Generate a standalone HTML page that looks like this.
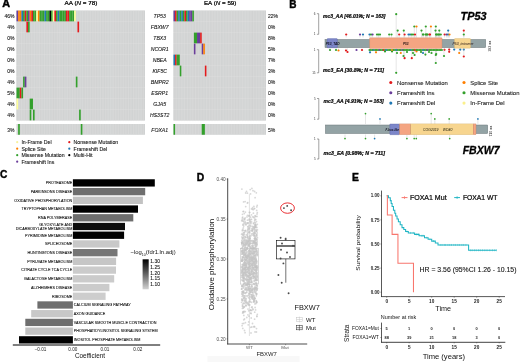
<!DOCTYPE html>
<html><head><meta charset="utf-8"><title>Figure</title>
<style>html,body{margin:0;padding:0;background:#fff;}svg{display:block}text{font-family:'Liberation Sans', sans-serif;}</style>
</head><body>
<svg width="520" height="362" viewBox="0 0 520 362" font-family='"Liberation Sans", sans-serif'>
<rect width="520" height="362" fill="#fff"/>
<g id="panelA">
<text x="2.30" y="7.40" font-size="10" font-weight="bold" textLength="7.80" lengthAdjust="spacingAndGlyphs" stroke="#000" stroke-width="0.4">A</text>
<text x="81.00" y="4.90" font-size="6.1" text-anchor="middle" textLength="33.00" lengthAdjust="spacingAndGlyphs" stroke="#000" stroke-width="0.22">AA (<tspan font-style="italic">N</tspan> = 78)</text>
<text x="220.20" y="4.90" font-size="6.1" text-anchor="middle" textLength="32.50" lengthAdjust="spacingAndGlyphs" stroke="#000" stroke-width="0.22">EA (<tspan font-style="italic">N</tspan> = 59)</text>
<rect x="16.50" y="10.60" width="128.50" height="110.00" fill="#e0e0e0" />
<rect x="173.50" y="10.60" width="92.50" height="110.00" fill="#e0e0e0" />
<rect x="16.50" y="10.60" width="128.50" height="10.75" fill="#d0d2d2" />
<rect x="173.50" y="10.60" width="92.50" height="10.75" fill="#d0d2d2" />
<text x="14.60" y="18.20" font-size="5.05" text-anchor="end" fill="#111" stroke="#111" stroke-width="0.09">46%</text>
<text x="268.00" y="18.20" font-size="5.05" fill="#111" stroke="#111" stroke-width="0.09">22%</text>
<text x="159.70" y="18.30" font-size="5.15" text-anchor="middle" font-style="italic" fill="#111" stroke="#111" stroke-width="0.09">TP53</text>
<rect x="16.50" y="21.60" width="128.50" height="10.75" fill="#d0d2d2" />
<rect x="173.50" y="21.60" width="92.50" height="10.75" fill="#d0d2d2" />
<text x="14.60" y="29.20" font-size="5.05" text-anchor="end" fill="#111" stroke="#111" stroke-width="0.09">4%</text>
<text x="268.00" y="29.20" font-size="5.05" fill="#111" stroke="#111" stroke-width="0.09">0%</text>
<text x="159.70" y="29.30" font-size="5.15" text-anchor="middle" font-style="italic" fill="#111" stroke="#111" stroke-width="0.09">FBXW7</text>
<rect x="16.50" y="32.60" width="128.50" height="10.75" fill="#d0d2d2" />
<rect x="173.50" y="32.60" width="92.50" height="10.75" fill="#d0d2d2" />
<text x="14.60" y="40.20" font-size="5.05" text-anchor="end" fill="#111" stroke="#111" stroke-width="0.09">0%</text>
<text x="268.00" y="40.20" font-size="5.05" fill="#111" stroke="#111" stroke-width="0.09">8%</text>
<text x="159.70" y="40.30" font-size="5.15" text-anchor="middle" font-style="italic" fill="#111" stroke="#111" stroke-width="0.09">TBX3</text>
<rect x="16.50" y="43.60" width="128.50" height="10.75" fill="#d0d2d2" />
<rect x="173.50" y="43.60" width="92.50" height="10.75" fill="#d0d2d2" />
<text x="14.60" y="51.20" font-size="5.05" text-anchor="end" fill="#111" stroke="#111" stroke-width="0.09">0%</text>
<text x="268.00" y="51.20" font-size="5.05" fill="#111" stroke="#111" stroke-width="0.09">5%</text>
<text x="159.70" y="51.30" font-size="5.15" text-anchor="middle" font-style="italic" fill="#111" stroke="#111" stroke-width="0.09">NCOR1</text>
<rect x="16.50" y="54.60" width="128.50" height="10.75" fill="#d0d2d2" />
<rect x="173.50" y="54.60" width="92.50" height="10.75" fill="#d0d2d2" />
<text x="14.60" y="62.20" font-size="5.05" text-anchor="end" fill="#111" stroke="#111" stroke-width="0.09">0%</text>
<text x="268.00" y="62.20" font-size="5.05" fill="#111" stroke="#111" stroke-width="0.09">7%</text>
<text x="159.70" y="62.30" font-size="5.15" text-anchor="middle" font-style="italic" fill="#111" stroke="#111" stroke-width="0.09">NBEA</text>
<rect x="16.50" y="65.60" width="128.50" height="10.75" fill="#d0d2d2" />
<rect x="173.50" y="65.60" width="92.50" height="10.75" fill="#d0d2d2" />
<text x="14.60" y="73.20" font-size="5.05" text-anchor="end" fill="#111" stroke="#111" stroke-width="0.09">0%</text>
<text x="268.00" y="73.20" font-size="5.05" fill="#111" stroke="#111" stroke-width="0.09">3%</text>
<text x="159.70" y="73.30" font-size="5.15" text-anchor="middle" font-style="italic" fill="#111" stroke="#111" stroke-width="0.09">KIF5C</text>
<rect x="16.50" y="76.60" width="128.50" height="10.75" fill="#d0d2d2" />
<rect x="173.50" y="76.60" width="92.50" height="10.75" fill="#d0d2d2" />
<text x="14.60" y="84.20" font-size="5.05" text-anchor="end" fill="#111" stroke="#111" stroke-width="0.09">4%</text>
<text x="268.00" y="84.20" font-size="5.05" fill="#111" stroke="#111" stroke-width="0.09">0%</text>
<text x="159.70" y="84.30" font-size="5.15" text-anchor="middle" font-style="italic" fill="#111" stroke="#111" stroke-width="0.09">BMPR2</text>
<rect x="16.50" y="87.60" width="128.50" height="10.75" fill="#d0d2d2" />
<rect x="173.50" y="87.60" width="92.50" height="10.75" fill="#d0d2d2" />
<text x="14.60" y="95.20" font-size="5.05" text-anchor="end" fill="#111" stroke="#111" stroke-width="0.09">5%</text>
<text x="268.00" y="95.20" font-size="5.05" fill="#111" stroke="#111" stroke-width="0.09">0%</text>
<text x="159.70" y="95.30" font-size="5.15" text-anchor="middle" font-style="italic" fill="#111" stroke="#111" stroke-width="0.09">ESRP1</text>
<rect x="16.50" y="98.60" width="128.50" height="10.75" fill="#d0d2d2" />
<rect x="173.50" y="98.60" width="92.50" height="10.75" fill="#d0d2d2" />
<text x="14.60" y="106.20" font-size="5.05" text-anchor="end" fill="#111" stroke="#111" stroke-width="0.09">4%</text>
<text x="268.00" y="106.20" font-size="5.05" fill="#111" stroke="#111" stroke-width="0.09">0%</text>
<text x="159.70" y="106.30" font-size="5.15" text-anchor="middle" font-style="italic" fill="#111" stroke="#111" stroke-width="0.09">GJA5</text>
<rect x="16.50" y="109.60" width="128.50" height="10.75" fill="#d0d2d2" />
<rect x="173.50" y="109.60" width="92.50" height="10.75" fill="#d0d2d2" />
<text x="14.60" y="117.20" font-size="5.05" text-anchor="end" fill="#111" stroke="#111" stroke-width="0.09">4%</text>
<text x="268.00" y="117.20" font-size="5.05" fill="#111" stroke="#111" stroke-width="0.09">0%</text>
<text x="159.70" y="117.30" font-size="5.15" text-anchor="middle" font-style="italic" fill="#111" stroke="#111" stroke-width="0.09">HS3ST2</text>
<rect x="16.50" y="124.00" width="128.50" height="10.75" fill="#d0d2d2" />
<rect x="173.50" y="124.00" width="92.50" height="10.75" fill="#d0d2d2" />
<text x="14.60" y="131.60" font-size="5.05" text-anchor="end" fill="#111" stroke="#111" stroke-width="0.09">3%</text>
<text x="268.00" y="131.60" font-size="5.05" fill="#111" stroke="#111" stroke-width="0.09">5%</text>
<text x="159.70" y="131.70" font-size="5.15" text-anchor="middle" font-style="italic" fill="#111" stroke="#111" stroke-width="0.09">FOXA1</text>
<line x1="18.15" y1="10.6" x2="18.15" y2="134.5" stroke="#dfdfdf" stroke-width="0.45"/>
<line x1="19.79" y1="10.6" x2="19.79" y2="134.5" stroke="#dfdfdf" stroke-width="0.45"/>
<line x1="21.44" y1="10.6" x2="21.44" y2="134.5" stroke="#dfdfdf" stroke-width="0.45"/>
<line x1="23.09" y1="10.6" x2="23.09" y2="134.5" stroke="#dfdfdf" stroke-width="0.45"/>
<line x1="24.74" y1="10.6" x2="24.74" y2="134.5" stroke="#dfdfdf" stroke-width="0.45"/>
<line x1="26.38" y1="10.6" x2="26.38" y2="134.5" stroke="#dfdfdf" stroke-width="0.45"/>
<line x1="28.03" y1="10.6" x2="28.03" y2="134.5" stroke="#dfdfdf" stroke-width="0.45"/>
<line x1="29.68" y1="10.6" x2="29.68" y2="134.5" stroke="#dfdfdf" stroke-width="0.45"/>
<line x1="31.33" y1="10.6" x2="31.33" y2="134.5" stroke="#dfdfdf" stroke-width="0.45"/>
<line x1="32.97" y1="10.6" x2="32.97" y2="134.5" stroke="#dfdfdf" stroke-width="0.45"/>
<line x1="34.62" y1="10.6" x2="34.62" y2="134.5" stroke="#dfdfdf" stroke-width="0.45"/>
<line x1="36.27" y1="10.6" x2="36.27" y2="134.5" stroke="#dfdfdf" stroke-width="0.45"/>
<line x1="37.92" y1="10.6" x2="37.92" y2="134.5" stroke="#dfdfdf" stroke-width="0.45"/>
<line x1="39.56" y1="10.6" x2="39.56" y2="134.5" stroke="#dfdfdf" stroke-width="0.45"/>
<line x1="41.21" y1="10.6" x2="41.21" y2="134.5" stroke="#dfdfdf" stroke-width="0.45"/>
<line x1="42.86" y1="10.6" x2="42.86" y2="134.5" stroke="#dfdfdf" stroke-width="0.45"/>
<line x1="44.51" y1="10.6" x2="44.51" y2="134.5" stroke="#dfdfdf" stroke-width="0.45"/>
<line x1="46.15" y1="10.6" x2="46.15" y2="134.5" stroke="#dfdfdf" stroke-width="0.45"/>
<line x1="47.80" y1="10.6" x2="47.80" y2="134.5" stroke="#dfdfdf" stroke-width="0.45"/>
<line x1="49.45" y1="10.6" x2="49.45" y2="134.5" stroke="#dfdfdf" stroke-width="0.45"/>
<line x1="51.10" y1="10.6" x2="51.10" y2="134.5" stroke="#dfdfdf" stroke-width="0.45"/>
<line x1="52.74" y1="10.6" x2="52.74" y2="134.5" stroke="#dfdfdf" stroke-width="0.45"/>
<line x1="54.39" y1="10.6" x2="54.39" y2="134.5" stroke="#dfdfdf" stroke-width="0.45"/>
<line x1="56.04" y1="10.6" x2="56.04" y2="134.5" stroke="#dfdfdf" stroke-width="0.45"/>
<line x1="57.69" y1="10.6" x2="57.69" y2="134.5" stroke="#dfdfdf" stroke-width="0.45"/>
<line x1="59.33" y1="10.6" x2="59.33" y2="134.5" stroke="#dfdfdf" stroke-width="0.45"/>
<line x1="60.98" y1="10.6" x2="60.98" y2="134.5" stroke="#dfdfdf" stroke-width="0.45"/>
<line x1="62.63" y1="10.6" x2="62.63" y2="134.5" stroke="#dfdfdf" stroke-width="0.45"/>
<line x1="64.28" y1="10.6" x2="64.28" y2="134.5" stroke="#dfdfdf" stroke-width="0.45"/>
<line x1="65.92" y1="10.6" x2="65.92" y2="134.5" stroke="#dfdfdf" stroke-width="0.45"/>
<line x1="67.57" y1="10.6" x2="67.57" y2="134.5" stroke="#dfdfdf" stroke-width="0.45"/>
<line x1="69.22" y1="10.6" x2="69.22" y2="134.5" stroke="#dfdfdf" stroke-width="0.45"/>
<line x1="70.87" y1="10.6" x2="70.87" y2="134.5" stroke="#dfdfdf" stroke-width="0.45"/>
<line x1="72.51" y1="10.6" x2="72.51" y2="134.5" stroke="#dfdfdf" stroke-width="0.45"/>
<line x1="74.16" y1="10.6" x2="74.16" y2="134.5" stroke="#dfdfdf" stroke-width="0.45"/>
<line x1="75.81" y1="10.6" x2="75.81" y2="134.5" stroke="#dfdfdf" stroke-width="0.45"/>
<line x1="77.46" y1="10.6" x2="77.46" y2="134.5" stroke="#dfdfdf" stroke-width="0.45"/>
<line x1="79.10" y1="10.6" x2="79.10" y2="134.5" stroke="#dfdfdf" stroke-width="0.45"/>
<line x1="80.75" y1="10.6" x2="80.75" y2="134.5" stroke="#dfdfdf" stroke-width="0.45"/>
<line x1="82.40" y1="10.6" x2="82.40" y2="134.5" stroke="#dfdfdf" stroke-width="0.45"/>
<line x1="84.04" y1="10.6" x2="84.04" y2="134.5" stroke="#dfdfdf" stroke-width="0.45"/>
<line x1="85.69" y1="10.6" x2="85.69" y2="134.5" stroke="#dfdfdf" stroke-width="0.45"/>
<line x1="87.34" y1="10.6" x2="87.34" y2="134.5" stroke="#dfdfdf" stroke-width="0.45"/>
<line x1="88.99" y1="10.6" x2="88.99" y2="134.5" stroke="#dfdfdf" stroke-width="0.45"/>
<line x1="90.63" y1="10.6" x2="90.63" y2="134.5" stroke="#dfdfdf" stroke-width="0.45"/>
<line x1="92.28" y1="10.6" x2="92.28" y2="134.5" stroke="#dfdfdf" stroke-width="0.45"/>
<line x1="93.93" y1="10.6" x2="93.93" y2="134.5" stroke="#dfdfdf" stroke-width="0.45"/>
<line x1="95.58" y1="10.6" x2="95.58" y2="134.5" stroke="#dfdfdf" stroke-width="0.45"/>
<line x1="97.22" y1="10.6" x2="97.22" y2="134.5" stroke="#dfdfdf" stroke-width="0.45"/>
<line x1="98.87" y1="10.6" x2="98.87" y2="134.5" stroke="#dfdfdf" stroke-width="0.45"/>
<line x1="100.52" y1="10.6" x2="100.52" y2="134.5" stroke="#dfdfdf" stroke-width="0.45"/>
<line x1="102.17" y1="10.6" x2="102.17" y2="134.5" stroke="#dfdfdf" stroke-width="0.45"/>
<line x1="103.81" y1="10.6" x2="103.81" y2="134.5" stroke="#dfdfdf" stroke-width="0.45"/>
<line x1="105.46" y1="10.6" x2="105.46" y2="134.5" stroke="#dfdfdf" stroke-width="0.45"/>
<line x1="107.11" y1="10.6" x2="107.11" y2="134.5" stroke="#dfdfdf" stroke-width="0.45"/>
<line x1="108.76" y1="10.6" x2="108.76" y2="134.5" stroke="#dfdfdf" stroke-width="0.45"/>
<line x1="110.40" y1="10.6" x2="110.40" y2="134.5" stroke="#dfdfdf" stroke-width="0.45"/>
<line x1="112.05" y1="10.6" x2="112.05" y2="134.5" stroke="#dfdfdf" stroke-width="0.45"/>
<line x1="113.70" y1="10.6" x2="113.70" y2="134.5" stroke="#dfdfdf" stroke-width="0.45"/>
<line x1="115.35" y1="10.6" x2="115.35" y2="134.5" stroke="#dfdfdf" stroke-width="0.45"/>
<line x1="116.99" y1="10.6" x2="116.99" y2="134.5" stroke="#dfdfdf" stroke-width="0.45"/>
<line x1="118.64" y1="10.6" x2="118.64" y2="134.5" stroke="#dfdfdf" stroke-width="0.45"/>
<line x1="120.29" y1="10.6" x2="120.29" y2="134.5" stroke="#dfdfdf" stroke-width="0.45"/>
<line x1="121.94" y1="10.6" x2="121.94" y2="134.5" stroke="#dfdfdf" stroke-width="0.45"/>
<line x1="123.58" y1="10.6" x2="123.58" y2="134.5" stroke="#dfdfdf" stroke-width="0.45"/>
<line x1="125.23" y1="10.6" x2="125.23" y2="134.5" stroke="#dfdfdf" stroke-width="0.45"/>
<line x1="126.88" y1="10.6" x2="126.88" y2="134.5" stroke="#dfdfdf" stroke-width="0.45"/>
<line x1="128.53" y1="10.6" x2="128.53" y2="134.5" stroke="#dfdfdf" stroke-width="0.45"/>
<line x1="130.17" y1="10.6" x2="130.17" y2="134.5" stroke="#dfdfdf" stroke-width="0.45"/>
<line x1="131.82" y1="10.6" x2="131.82" y2="134.5" stroke="#dfdfdf" stroke-width="0.45"/>
<line x1="133.47" y1="10.6" x2="133.47" y2="134.5" stroke="#dfdfdf" stroke-width="0.45"/>
<line x1="135.12" y1="10.6" x2="135.12" y2="134.5" stroke="#dfdfdf" stroke-width="0.45"/>
<line x1="136.76" y1="10.6" x2="136.76" y2="134.5" stroke="#dfdfdf" stroke-width="0.45"/>
<line x1="138.41" y1="10.6" x2="138.41" y2="134.5" stroke="#dfdfdf" stroke-width="0.45"/>
<line x1="140.06" y1="10.6" x2="140.06" y2="134.5" stroke="#dfdfdf" stroke-width="0.45"/>
<line x1="141.71" y1="10.6" x2="141.71" y2="134.5" stroke="#dfdfdf" stroke-width="0.45"/>
<line x1="143.35" y1="10.6" x2="143.35" y2="134.5" stroke="#dfdfdf" stroke-width="0.45"/>
<line x1="175.07" y1="10.6" x2="175.07" y2="134.5" stroke="#dfdfdf" stroke-width="0.45"/>
<line x1="176.64" y1="10.6" x2="176.64" y2="134.5" stroke="#dfdfdf" stroke-width="0.45"/>
<line x1="178.20" y1="10.6" x2="178.20" y2="134.5" stroke="#dfdfdf" stroke-width="0.45"/>
<line x1="179.77" y1="10.6" x2="179.77" y2="134.5" stroke="#dfdfdf" stroke-width="0.45"/>
<line x1="181.34" y1="10.6" x2="181.34" y2="134.5" stroke="#dfdfdf" stroke-width="0.45"/>
<line x1="182.91" y1="10.6" x2="182.91" y2="134.5" stroke="#dfdfdf" stroke-width="0.45"/>
<line x1="184.47" y1="10.6" x2="184.47" y2="134.5" stroke="#dfdfdf" stroke-width="0.45"/>
<line x1="186.04" y1="10.6" x2="186.04" y2="134.5" stroke="#dfdfdf" stroke-width="0.45"/>
<line x1="187.61" y1="10.6" x2="187.61" y2="134.5" stroke="#dfdfdf" stroke-width="0.45"/>
<line x1="189.18" y1="10.6" x2="189.18" y2="134.5" stroke="#dfdfdf" stroke-width="0.45"/>
<line x1="190.75" y1="10.6" x2="190.75" y2="134.5" stroke="#dfdfdf" stroke-width="0.45"/>
<line x1="192.31" y1="10.6" x2="192.31" y2="134.5" stroke="#dfdfdf" stroke-width="0.45"/>
<line x1="193.88" y1="10.6" x2="193.88" y2="134.5" stroke="#dfdfdf" stroke-width="0.45"/>
<line x1="195.45" y1="10.6" x2="195.45" y2="134.5" stroke="#dfdfdf" stroke-width="0.45"/>
<line x1="197.02" y1="10.6" x2="197.02" y2="134.5" stroke="#dfdfdf" stroke-width="0.45"/>
<line x1="198.58" y1="10.6" x2="198.58" y2="134.5" stroke="#dfdfdf" stroke-width="0.45"/>
<line x1="200.15" y1="10.6" x2="200.15" y2="134.5" stroke="#dfdfdf" stroke-width="0.45"/>
<line x1="201.72" y1="10.6" x2="201.72" y2="134.5" stroke="#dfdfdf" stroke-width="0.45"/>
<line x1="203.29" y1="10.6" x2="203.29" y2="134.5" stroke="#dfdfdf" stroke-width="0.45"/>
<line x1="204.86" y1="10.6" x2="204.86" y2="134.5" stroke="#dfdfdf" stroke-width="0.45"/>
<line x1="206.42" y1="10.6" x2="206.42" y2="134.5" stroke="#dfdfdf" stroke-width="0.45"/>
<line x1="207.99" y1="10.6" x2="207.99" y2="134.5" stroke="#dfdfdf" stroke-width="0.45"/>
<line x1="209.56" y1="10.6" x2="209.56" y2="134.5" stroke="#dfdfdf" stroke-width="0.45"/>
<line x1="211.13" y1="10.6" x2="211.13" y2="134.5" stroke="#dfdfdf" stroke-width="0.45"/>
<line x1="212.69" y1="10.6" x2="212.69" y2="134.5" stroke="#dfdfdf" stroke-width="0.45"/>
<line x1="214.26" y1="10.6" x2="214.26" y2="134.5" stroke="#dfdfdf" stroke-width="0.45"/>
<line x1="215.83" y1="10.6" x2="215.83" y2="134.5" stroke="#dfdfdf" stroke-width="0.45"/>
<line x1="217.40" y1="10.6" x2="217.40" y2="134.5" stroke="#dfdfdf" stroke-width="0.45"/>
<line x1="218.97" y1="10.6" x2="218.97" y2="134.5" stroke="#dfdfdf" stroke-width="0.45"/>
<line x1="220.53" y1="10.6" x2="220.53" y2="134.5" stroke="#dfdfdf" stroke-width="0.45"/>
<line x1="222.10" y1="10.6" x2="222.10" y2="134.5" stroke="#dfdfdf" stroke-width="0.45"/>
<line x1="223.67" y1="10.6" x2="223.67" y2="134.5" stroke="#dfdfdf" stroke-width="0.45"/>
<line x1="225.24" y1="10.6" x2="225.24" y2="134.5" stroke="#dfdfdf" stroke-width="0.45"/>
<line x1="226.81" y1="10.6" x2="226.81" y2="134.5" stroke="#dfdfdf" stroke-width="0.45"/>
<line x1="228.37" y1="10.6" x2="228.37" y2="134.5" stroke="#dfdfdf" stroke-width="0.45"/>
<line x1="229.94" y1="10.6" x2="229.94" y2="134.5" stroke="#dfdfdf" stroke-width="0.45"/>
<line x1="231.51" y1="10.6" x2="231.51" y2="134.5" stroke="#dfdfdf" stroke-width="0.45"/>
<line x1="233.08" y1="10.6" x2="233.08" y2="134.5" stroke="#dfdfdf" stroke-width="0.45"/>
<line x1="234.64" y1="10.6" x2="234.64" y2="134.5" stroke="#dfdfdf" stroke-width="0.45"/>
<line x1="236.21" y1="10.6" x2="236.21" y2="134.5" stroke="#dfdfdf" stroke-width="0.45"/>
<line x1="237.78" y1="10.6" x2="237.78" y2="134.5" stroke="#dfdfdf" stroke-width="0.45"/>
<line x1="239.35" y1="10.6" x2="239.35" y2="134.5" stroke="#dfdfdf" stroke-width="0.45"/>
<line x1="240.92" y1="10.6" x2="240.92" y2="134.5" stroke="#dfdfdf" stroke-width="0.45"/>
<line x1="242.48" y1="10.6" x2="242.48" y2="134.5" stroke="#dfdfdf" stroke-width="0.45"/>
<line x1="244.05" y1="10.6" x2="244.05" y2="134.5" stroke="#dfdfdf" stroke-width="0.45"/>
<line x1="245.62" y1="10.6" x2="245.62" y2="134.5" stroke="#dfdfdf" stroke-width="0.45"/>
<line x1="247.19" y1="10.6" x2="247.19" y2="134.5" stroke="#dfdfdf" stroke-width="0.45"/>
<line x1="248.75" y1="10.6" x2="248.75" y2="134.5" stroke="#dfdfdf" stroke-width="0.45"/>
<line x1="250.32" y1="10.6" x2="250.32" y2="134.5" stroke="#dfdfdf" stroke-width="0.45"/>
<line x1="251.89" y1="10.6" x2="251.89" y2="134.5" stroke="#dfdfdf" stroke-width="0.45"/>
<line x1="253.46" y1="10.6" x2="253.46" y2="134.5" stroke="#dfdfdf" stroke-width="0.45"/>
<line x1="255.03" y1="10.6" x2="255.03" y2="134.5" stroke="#dfdfdf" stroke-width="0.45"/>
<line x1="256.59" y1="10.6" x2="256.59" y2="134.5" stroke="#dfdfdf" stroke-width="0.45"/>
<line x1="258.16" y1="10.6" x2="258.16" y2="134.5" stroke="#dfdfdf" stroke-width="0.45"/>
<line x1="259.73" y1="10.6" x2="259.73" y2="134.5" stroke="#dfdfdf" stroke-width="0.45"/>
<line x1="261.30" y1="10.6" x2="261.30" y2="134.5" stroke="#dfdfdf" stroke-width="0.45"/>
<line x1="262.86" y1="10.6" x2="262.86" y2="134.5" stroke="#dfdfdf" stroke-width="0.45"/>
<line x1="264.43" y1="10.6" x2="264.43" y2="134.5" stroke="#dfdfdf" stroke-width="0.45"/>
<rect x="0.00" y="121.10" width="300.00" height="2.90" fill="#fff" />
<rect x="16.50" y="10.60" width="1.65" height="10.75" fill="#6a3d9a" />
<rect x="18.15" y="10.60" width="1.65" height="10.75" fill="#ff7f00" />
<rect x="19.79" y="10.60" width="1.65" height="10.75" fill="#ff7f00" />
<rect x="21.44" y="10.60" width="1.65" height="10.75" fill="#1f78b4" />
<rect x="23.09" y="10.60" width="1.65" height="10.75" fill="#33a02c" />
<rect x="24.74" y="10.60" width="1.65" height="10.75" fill="#e31a1c" />
<rect x="26.38" y="10.60" width="1.65" height="10.75" fill="#33a02c" />
<rect x="28.03" y="10.60" width="1.65" height="10.75" fill="#6a3d9a" />
<rect x="29.68" y="10.60" width="1.65" height="10.75" fill="#ff7f00" />
<rect x="31.33" y="10.60" width="1.65" height="10.75" fill="#e31a1c" />
<rect x="32.97" y="10.60" width="1.65" height="10.75" fill="#33a02c" />
<rect x="34.62" y="10.60" width="1.65" height="10.75" fill="#33a02c" />
<rect x="36.27" y="10.60" width="1.65" height="10.75" fill="#ffff99" />
<rect x="37.92" y="10.60" width="1.65" height="10.75" fill="#ff7f00" />
<rect x="39.56" y="10.60" width="1.65" height="10.75" fill="#33a02c" />
<rect x="41.21" y="10.60" width="1.65" height="10.75" fill="#33a02c" />
<rect x="42.86" y="10.60" width="1.65" height="10.75" fill="#33a02c" />
<rect x="44.51" y="10.60" width="1.65" height="10.75" fill="#1f78b4" />
<rect x="46.15" y="10.60" width="1.65" height="10.75" fill="#33a02c" />
<rect x="47.80" y="10.60" width="1.65" height="10.75" fill="#33a02c" />
<rect x="49.45" y="10.60" width="1.65" height="10.75" fill="#000000" />
<rect x="51.10" y="10.60" width="1.65" height="10.75" fill="#33a02c" />
<rect x="52.74" y="10.60" width="1.65" height="10.75" fill="#ffff99" />
<rect x="54.39" y="10.60" width="1.65" height="10.75" fill="#e31a1c" />
<rect x="56.04" y="10.60" width="1.65" height="10.75" fill="#33a02c" />
<rect x="57.69" y="10.60" width="1.65" height="10.75" fill="#1f78b4" />
<rect x="59.33" y="10.60" width="1.65" height="10.75" fill="#33a02c" />
<rect x="60.98" y="10.60" width="1.65" height="10.75" fill="#33a02c" />
<rect x="62.63" y="10.60" width="1.65" height="10.75" fill="#33a02c" />
<rect x="64.28" y="10.60" width="1.65" height="10.75" fill="#33a02c" />
<rect x="65.92" y="10.60" width="1.65" height="10.75" fill="#e31a1c" />
<rect x="67.57" y="10.60" width="1.65" height="10.75" fill="#e31a1c" />
<rect x="69.22" y="10.60" width="1.65" height="10.75" fill="#33a02c" />
<rect x="70.87" y="10.60" width="1.65" height="10.75" fill="#33a02c" />
<rect x="72.51" y="10.60" width="1.65" height="10.75" fill="#33a02c" />
<rect x="74.16" y="10.60" width="1.65" height="10.75" fill="#ffff99" />
<rect x="26.38" y="21.60" width="1.65" height="10.75" fill="#e31a1c" />
<rect x="28.03" y="21.60" width="1.65" height="10.75" fill="#33a02c" />
<rect x="77.46" y="21.60" width="1.65" height="10.75" fill="#e31a1c" />
<rect x="23.09" y="76.60" width="1.65" height="10.75" fill="#33a02c" />
<rect x="24.74" y="76.60" width="1.65" height="10.75" fill="#6a3d9a" />
<rect x="75.81" y="76.60" width="1.65" height="10.75" fill="#33a02c" />
<rect x="16.50" y="87.60" width="3.29" height="10.75" fill="#33a02c" />
<rect x="19.79" y="87.60" width="1.65" height="10.75" fill="#e31a1c" />
<rect x="21.44" y="87.60" width="1.65" height="10.75" fill="#33a02c" />
<rect x="16.50" y="98.60" width="1.65" height="10.75" fill="#ffff99" />
<rect x="29.68" y="98.60" width="3.29" height="10.75" fill="#33a02c" />
<rect x="29.68" y="109.60" width="1.65" height="10.75" fill="#33a02c" />
<rect x="32.97" y="109.60" width="1.65" height="10.75" fill="#33a02c" />
<rect x="79.10" y="109.60" width="1.65" height="10.75" fill="#33a02c" />
<rect x="18.15" y="124.00" width="1.65" height="10.75" fill="#33a02c" />
<rect x="80.75" y="124.00" width="1.65" height="10.75" fill="#33a02c" />
<rect x="173.50" y="10.60" width="1.57" height="10.75" fill="#6a3d9a" />
<rect x="175.07" y="10.60" width="1.57" height="10.75" fill="#e31a1c" />
<rect x="176.64" y="10.60" width="1.57" height="10.75" fill="#33a02c" />
<rect x="178.20" y="10.60" width="1.57" height="10.75" fill="#1f78b4" />
<rect x="179.77" y="10.60" width="1.57" height="10.75" fill="#33a02c" />
<rect x="181.34" y="10.60" width="1.57" height="10.75" fill="#1f78b4" />
<rect x="182.91" y="10.60" width="1.57" height="10.75" fill="#33a02c" />
<rect x="184.47" y="10.60" width="1.57" height="10.75" fill="#e31a1c" />
<rect x="186.04" y="10.60" width="1.57" height="10.75" fill="#33a02c" />
<rect x="187.61" y="10.60" width="1.57" height="10.75" fill="#1f78b4" />
<rect x="189.18" y="10.60" width="1.57" height="10.75" fill="#6a3d9a" />
<rect x="190.75" y="10.60" width="1.57" height="10.75" fill="#6a3d9a" />
<rect x="192.31" y="10.60" width="1.57" height="10.75" fill="#33a02c" />
<rect x="193.88" y="32.60" width="3.14" height="10.75" fill="#33a02c" />
<rect x="197.02" y="32.60" width="3.14" height="10.75" fill="#6a3d9a" />
<rect x="200.15" y="32.60" width="1.57" height="10.75" fill="#e31a1c" />
<rect x="193.88" y="43.60" width="1.57" height="10.75" fill="#6a3d9a" />
<rect x="201.72" y="43.60" width="1.57" height="10.75" fill="#6a3d9a" />
<rect x="203.29" y="43.60" width="1.57" height="10.75" fill="#ff7f00" />
<rect x="173.50" y="54.60" width="1.57" height="10.75" fill="#1f78b4" />
<rect x="175.07" y="54.60" width="1.57" height="10.75" fill="#e31a1c" />
<rect x="176.64" y="54.60" width="3.14" height="10.75" fill="#33a02c" />
<rect x="179.77" y="65.60" width="1.57" height="10.75" fill="#33a02c" />
<rect x="204.86" y="65.60" width="1.57" height="10.75" fill="#e31a1c" />
<rect x="173.50" y="124.00" width="1.57" height="10.75" fill="#33a02c" />
<rect x="201.72" y="124.00" width="3.14" height="10.75" fill="#33a02c" />
<circle cx="17.20" cy="142.20" r="1.1" fill="#f7f29a" />
<text x="21.40" y="144.05" font-size="5.2" fill="#111" stroke="#111" stroke-width="0.09">In-Frame Del</text>
<circle cx="17.20" cy="148.70" r="1.1" fill="#ff7f00" />
<text x="21.40" y="150.55" font-size="5.2" fill="#111" stroke="#111" stroke-width="0.09">Splice Site</text>
<circle cx="17.20" cy="155.20" r="1.1" fill="#33a02c" />
<text x="21.40" y="157.05" font-size="5.2" fill="#111" stroke="#111" stroke-width="0.09">Missense Mutation</text>
<circle cx="17.20" cy="161.70" r="1.1" fill="#6a3d9a" />
<text x="21.40" y="163.55" font-size="5.2" fill="#111" stroke="#111" stroke-width="0.09">Frameshift Ins</text>
<circle cx="69.30" cy="142.20" r="1.1" fill="#e31a1c" />
<text x="73.50" y="144.05" font-size="5.2" fill="#111" stroke="#111" stroke-width="0.09">Nonsense Mutation</text>
<circle cx="69.30" cy="148.70" r="1.1" fill="#1f78b4" />
<text x="73.50" y="150.55" font-size="5.2" fill="#111" stroke="#111" stroke-width="0.09">Frameshift Del</text>
<circle cx="69.30" cy="155.20" r="1.1" fill="#000000" />
<text x="73.50" y="157.05" font-size="5.2" fill="#111" stroke="#111" stroke-width="0.09">Multi-Hit</text>
</g>
<g id="panelB">
<text x="289.20" y="8.20" font-size="10" font-weight="bold" stroke="#000" stroke-width="0.4">B</text>
<path d="M316.90 13.70H318.70V34.30H316.90" fill="none" stroke="#444" stroke-width="0.5"/>
<text x="315.50" y="14.80" font-size="3.0" text-anchor="end" fill="#333" >6</text>
<text x="315.50" y="35.40" font-size="3.0" text-anchor="end" fill="#333" >1</text>
<path d="M316.90 49.70H318.70V72.80H316.90" fill="none" stroke="#444" stroke-width="0.5"/>
<text x="315.50" y="50.80" font-size="3.0" text-anchor="end" fill="#333" >1</text>
<text x="315.50" y="73.90" font-size="3.0" text-anchor="end" fill="#333" >15</text>
<text x="323.00" y="17.90" font-size="5" font-weight="bold" font-style="italic" fill="#111" textLength="62.50" lengthAdjust="spacingAndGlyphs" stroke="#000" stroke-width="0.22">mc3_AA [46.01%; N = 163]</text>
<text x="323.00" y="71.80" font-size="5" font-weight="bold" font-style="italic" fill="#111" textLength="61.00" lengthAdjust="spacingAndGlyphs" stroke="#000" stroke-width="0.22">mc3_EA [30.8%; N = 711]</text>
<line x1="396.20" y1="37.50" x2="396.20" y2="14.20" stroke="#b8b8b8" stroke-width="0.35" />
<circle cx="396.20" cy="14.20" r="1.1" fill="#33a02c" />
<line x1="414.30" y1="37.50" x2="414.30" y2="26.50" stroke="#b8b8b8" stroke-width="0.35" />
<circle cx="414.30" cy="26.50" r="1.1" fill="#33a02c" />
<line x1="416.50" y1="37.50" x2="416.50" y2="26.50" stroke="#b8b8b8" stroke-width="0.35" />
<circle cx="416.50" cy="26.50" r="1.1" fill="#ff7f00" />
<line x1="425.80" y1="37.50" x2="425.80" y2="26.50" stroke="#b8b8b8" stroke-width="0.35" />
<circle cx="425.80" cy="26.50" r="1.1" fill="#33a02c" />
<line x1="430.90" y1="37.50" x2="430.90" y2="26.50" stroke="#b8b8b8" stroke-width="0.35" />
<circle cx="430.90" cy="26.50" r="1.1" fill="#ff7f00" />
<line x1="435.80" y1="37.50" x2="435.80" y2="26.50" stroke="#b8b8b8" stroke-width="0.35" />
<circle cx="435.80" cy="26.50" r="1.1" fill="#33a02c" />
<line x1="397.70" y1="37.50" x2="397.70" y2="30.60" stroke="#b8b8b8" stroke-width="0.35" />
<circle cx="397.70" cy="30.60" r="1.1" fill="#33a02c" />
<line x1="403.80" y1="37.50" x2="403.80" y2="30.60" stroke="#b8b8b8" stroke-width="0.35" />
<circle cx="403.80" cy="30.60" r="1.1" fill="#33a02c" />
<line x1="421.50" y1="37.50" x2="421.50" y2="30.60" stroke="#b8b8b8" stroke-width="0.35" />
<circle cx="421.50" cy="30.60" r="1.1" fill="#33a02c" />
<line x1="435.50" y1="37.50" x2="435.50" y2="30.60" stroke="#b8b8b8" stroke-width="0.35" />
<circle cx="435.50" cy="30.60" r="1.1" fill="#33a02c" />
<line x1="439.30" y1="37.50" x2="439.30" y2="30.60" stroke="#b8b8b8" stroke-width="0.35" />
<circle cx="439.30" cy="30.60" r="1.1" fill="#33a02c" />
<line x1="448.20" y1="37.50" x2="448.20" y2="30.60" stroke="#b8b8b8" stroke-width="0.35" />
<circle cx="448.20" cy="30.60" r="1.1" fill="#1f78b4" />
<line x1="463.80" y1="37.50" x2="463.80" y2="30.60" stroke="#b8b8b8" stroke-width="0.35" />
<circle cx="463.80" cy="30.60" r="1.1" fill="#e31a1c" />
<line x1="360.00" y1="37.50" x2="360.00" y2="34.50" stroke="#b8b8b8" stroke-width="0.35" />
<circle cx="360.00" cy="34.50" r="1.1" fill="#6a3d9a" />
<line x1="363.00" y1="37.50" x2="363.00" y2="34.50" stroke="#b8b8b8" stroke-width="0.35" />
<circle cx="363.00" cy="34.50" r="1.1" fill="#1f78b4" />
<line x1="369.50" y1="37.50" x2="369.50" y2="34.50" stroke="#b8b8b8" stroke-width="0.35" />
<circle cx="369.50" cy="34.50" r="1.1" fill="#1f78b4" />
<line x1="371.00" y1="37.50" x2="371.00" y2="34.50" stroke="#b8b8b8" stroke-width="0.35" />
<circle cx="371.00" cy="34.50" r="1.1" fill="#33a02c" />
<line x1="372.60" y1="37.50" x2="372.60" y2="34.50" stroke="#b8b8b8" stroke-width="0.35" />
<circle cx="372.60" cy="34.50" r="1.1" fill="#6a3d9a" />
<line x1="377.00" y1="37.50" x2="377.00" y2="34.50" stroke="#b8b8b8" stroke-width="0.35" />
<circle cx="377.00" cy="34.50" r="1.1" fill="#33a02c" />
<line x1="378.50" y1="37.50" x2="378.50" y2="34.50" stroke="#b8b8b8" stroke-width="0.35" />
<circle cx="378.50" cy="34.50" r="1.1" fill="#33a02c" />
<line x1="380.00" y1="37.50" x2="380.00" y2="34.50" stroke="#b8b8b8" stroke-width="0.35" />
<circle cx="380.00" cy="34.50" r="1.1" fill="#33a02c" />
<line x1="389.20" y1="37.50" x2="389.20" y2="34.50" stroke="#b8b8b8" stroke-width="0.35" />
<circle cx="389.20" cy="34.50" r="1.1" fill="#33a02c" />
<line x1="391.50" y1="37.50" x2="391.50" y2="34.50" stroke="#b8b8b8" stroke-width="0.35" />
<circle cx="391.50" cy="34.50" r="1.1" fill="#33a02c" />
<line x1="399.20" y1="37.50" x2="399.20" y2="34.50" stroke="#b8b8b8" stroke-width="0.35" />
<circle cx="399.20" cy="34.50" r="1.1" fill="#e31a1c" />
<line x1="404.60" y1="37.50" x2="404.60" y2="34.50" stroke="#b8b8b8" stroke-width="0.35" />
<circle cx="404.60" cy="34.50" r="1.1" fill="#e31a1c" />
<line x1="408.50" y1="37.50" x2="408.50" y2="34.50" stroke="#b8b8b8" stroke-width="0.35" />
<circle cx="408.50" cy="34.50" r="1.1" fill="#1f78b4" />
<line x1="410.00" y1="37.50" x2="410.00" y2="34.50" stroke="#b8b8b8" stroke-width="0.35" />
<circle cx="410.00" cy="34.50" r="1.1" fill="#1f78b4" />
<line x1="411.50" y1="37.50" x2="411.50" y2="34.50" stroke="#b8b8b8" stroke-width="0.35" />
<circle cx="411.50" cy="34.50" r="1.1" fill="#33a02c" />
<line x1="413.00" y1="37.50" x2="413.00" y2="34.50" stroke="#b8b8b8" stroke-width="0.35" />
<circle cx="413.00" cy="34.50" r="1.1" fill="#33a02c" />
<line x1="415.00" y1="37.50" x2="415.00" y2="34.50" stroke="#b8b8b8" stroke-width="0.35" />
<circle cx="415.00" cy="34.50" r="1.1" fill="#e31a1c" />
<line x1="423.00" y1="37.50" x2="423.00" y2="34.50" stroke="#b8b8b8" stroke-width="0.35" />
<circle cx="423.00" cy="34.50" r="1.1" fill="#33a02c" />
<line x1="426.20" y1="37.50" x2="426.20" y2="34.50" stroke="#b8b8b8" stroke-width="0.35" />
<circle cx="426.20" cy="34.50" r="1.1" fill="#33a02c" />
<line x1="427.70" y1="37.50" x2="427.70" y2="34.50" stroke="#b8b8b8" stroke-width="0.35" />
<circle cx="427.70" cy="34.50" r="1.1" fill="#33a02c" />
<line x1="430.00" y1="37.50" x2="430.00" y2="34.50" stroke="#b8b8b8" stroke-width="0.35" />
<circle cx="430.00" cy="34.50" r="1.1" fill="#e31a1c" />
<line x1="436.20" y1="37.50" x2="436.20" y2="34.50" stroke="#b8b8b8" stroke-width="0.35" />
<circle cx="436.20" cy="34.50" r="1.1" fill="#33a02c" />
<line x1="438.50" y1="37.50" x2="438.50" y2="34.50" stroke="#b8b8b8" stroke-width="0.35" />
<circle cx="438.50" cy="34.50" r="1.1" fill="#33a02c" />
<line x1="423.10" y1="37.50" x2="423.10" y2="34.50" stroke="#b8b8b8" stroke-width="0.35" />
<circle cx="423.10" cy="34.50" r="1.1" fill="#33a02c" />
<line x1="425.40" y1="37.50" x2="425.40" y2="34.50" stroke="#b8b8b8" stroke-width="0.35" />
<circle cx="425.40" cy="34.50" r="1.1" fill="#33a02c" />
<line x1="426.90" y1="37.50" x2="426.90" y2="34.50" stroke="#b8b8b8" stroke-width="0.35" />
<circle cx="426.90" cy="34.50" r="1.1" fill="#33a02c" />
<line x1="429.50" y1="37.50" x2="429.50" y2="34.50" stroke="#b8b8b8" stroke-width="0.35" />
<circle cx="429.50" cy="34.50" r="1.1" fill="#e31a1c" />
<line x1="436.20" y1="37.50" x2="436.20" y2="34.50" stroke="#b8b8b8" stroke-width="0.35" />
<circle cx="436.20" cy="34.50" r="1.1" fill="#33a02c" />
<line x1="437.70" y1="37.50" x2="437.70" y2="34.50" stroke="#b8b8b8" stroke-width="0.35" />
<circle cx="437.70" cy="34.50" r="1.1" fill="#33a02c" />
<line x1="439.30" y1="37.50" x2="439.30" y2="34.50" stroke="#b8b8b8" stroke-width="0.35" />
<circle cx="439.30" cy="34.50" r="1.1" fill="#33a02c" />
<line x1="440.80" y1="37.50" x2="440.80" y2="34.50" stroke="#b8b8b8" stroke-width="0.35" />
<circle cx="440.80" cy="34.50" r="1.1" fill="#33a02c" />
<line x1="444.60" y1="37.50" x2="444.60" y2="34.50" stroke="#b8b8b8" stroke-width="0.35" />
<circle cx="444.60" cy="34.50" r="1.1" fill="#e31a1c" />
<line x1="446.50" y1="37.50" x2="446.50" y2="34.50" stroke="#b8b8b8" stroke-width="0.35" />
<circle cx="446.50" cy="34.50" r="1.1" fill="#6a3d9a" />
<line x1="448.00" y1="37.50" x2="448.00" y2="34.50" stroke="#b8b8b8" stroke-width="0.35" />
<circle cx="448.00" cy="34.50" r="1.1" fill="#1f78b4" />
<line x1="449.50" y1="37.50" x2="449.50" y2="34.50" stroke="#b8b8b8" stroke-width="0.35" />
<circle cx="449.50" cy="34.50" r="1.1" fill="#ff7f00" />
<line x1="463.80" y1="37.50" x2="463.80" y2="34.50" stroke="#b8b8b8" stroke-width="0.35" />
<circle cx="463.80" cy="34.50" r="1.1" fill="#33a02c" />
<line x1="346.20" y1="37.50" x2="346.20" y2="34.50" stroke="#b8b8b8" stroke-width="0.35" />
<circle cx="346.20" cy="34.50" r="1.1" fill="#e31a1c" />
<line x1="396.20" y1="48.50" x2="396.20" y2="72.80" stroke="#b8b8b8" stroke-width="0.35" />
<circle cx="396.20" cy="72.80" r="1.1" fill="#33a02c" />
<line x1="435.80" y1="48.50" x2="435.80" y2="63.00" stroke="#b8b8b8" stroke-width="0.35" />
<circle cx="435.80" cy="63.00" r="1.1" fill="#33a02c" />
<line x1="435.80" y1="48.50" x2="435.80" y2="55.00" stroke="#b8b8b8" stroke-width="0.35" />
<circle cx="435.80" cy="55.00" r="1.1" fill="#33a02c" />
<line x1="404.60" y1="48.50" x2="404.60" y2="58.20" stroke="#b8b8b8" stroke-width="0.35" />
<circle cx="404.60" cy="58.20" r="1.1" fill="#e31a1c" />
<line x1="411.80" y1="48.50" x2="411.80" y2="58.20" stroke="#b8b8b8" stroke-width="0.35" />
<circle cx="411.80" cy="58.20" r="1.1" fill="#e31a1c" />
<line x1="403.50" y1="48.50" x2="403.50" y2="56.00" stroke="#b8b8b8" stroke-width="0.35" />
<circle cx="403.50" cy="56.00" r="1.1" fill="#33a02c" />
<line x1="397.00" y1="48.50" x2="397.00" y2="53.00" stroke="#b8b8b8" stroke-width="0.35" />
<circle cx="397.00" cy="53.00" r="1.1" fill="#33a02c" />
<line x1="400.80" y1="48.50" x2="400.80" y2="53.00" stroke="#b8b8b8" stroke-width="0.35" />
<circle cx="400.80" cy="53.00" r="1.1" fill="#ff7f00" />
<line x1="376.00" y1="48.50" x2="376.00" y2="52.30" stroke="#b8b8b8" stroke-width="0.35" />
<circle cx="376.00" cy="52.30" r="1.1" fill="#ff7f00" />
<line x1="370.00" y1="48.50" x2="370.00" y2="52.30" stroke="#b8b8b8" stroke-width="0.35" />
<circle cx="370.00" cy="52.30" r="1.1" fill="#1f78b4" />
<line x1="362.00" y1="48.50" x2="362.00" y2="50.00" stroke="#b8b8b8" stroke-width="0.35" />
<circle cx="362.00" cy="50.00" r="1.1" fill="#e31a1c" />
<line x1="413.00" y1="48.50" x2="413.00" y2="53.00" stroke="#b8b8b8" stroke-width="0.35" />
<circle cx="413.00" cy="53.00" r="1.1" fill="#33a02c" />
<line x1="414.60" y1="48.50" x2="414.60" y2="55.00" stroke="#b8b8b8" stroke-width="0.35" />
<circle cx="414.60" cy="55.00" r="1.1" fill="#33a02c" />
<line x1="416.50" y1="48.50" x2="416.50" y2="51.50" stroke="#b8b8b8" stroke-width="0.35" />
<circle cx="416.50" cy="51.50" r="1.1" fill="#ff7f00" />
<line x1="425.40" y1="48.50" x2="425.40" y2="54.60" stroke="#b8b8b8" stroke-width="0.35" />
<circle cx="425.40" cy="54.60" r="1.1" fill="#33a02c" />
<line x1="423.00" y1="48.50" x2="423.00" y2="53.00" stroke="#b8b8b8" stroke-width="0.35" />
<circle cx="423.00" cy="53.00" r="1.1" fill="#1f78b4" />
<line x1="449.20" y1="48.50" x2="449.20" y2="51.80" stroke="#b8b8b8" stroke-width="0.35" />
<circle cx="449.20" cy="51.80" r="1.1" fill="#e31a1c" />
<line x1="449.20" y1="48.50" x2="449.20" y2="49.60" stroke="#b8b8b8" stroke-width="0.35" />
<circle cx="449.20" cy="49.60" r="1.1" fill="#e31a1c" />
<line x1="454.20" y1="48.50" x2="454.20" y2="49.60" stroke="#b8b8b8" stroke-width="0.35" />
<circle cx="454.20" cy="49.60" r="1.1" fill="#1f78b4" />
<line x1="459.20" y1="48.50" x2="459.20" y2="53.00" stroke="#b8b8b8" stroke-width="0.35" />
<circle cx="459.20" cy="53.00" r="1.1" fill="#ff7f00" />
<line x1="460.30" y1="48.50" x2="460.30" y2="49.60" stroke="#b8b8b8" stroke-width="0.35" />
<circle cx="460.30" cy="49.60" r="1.1" fill="#1f78b4" />
<line x1="463.80" y1="48.50" x2="463.80" y2="49.60" stroke="#b8b8b8" stroke-width="0.35" />
<circle cx="463.80" cy="49.60" r="1.1" fill="#1f78b4" />
<line x1="463.80" y1="48.50" x2="463.80" y2="56.50" stroke="#b8b8b8" stroke-width="0.35" />
<circle cx="463.80" cy="56.50" r="1.1" fill="#e31a1c" />
<line x1="436.20" y1="48.50" x2="436.20" y2="54.00" stroke="#b8b8b8" stroke-width="0.35" />
<circle cx="436.20" cy="54.00" r="1.1" fill="#33a02c" />
<line x1="444.50" y1="48.50" x2="444.50" y2="49.80" stroke="#b8b8b8" stroke-width="0.35" />
<circle cx="444.50" cy="49.80" r="1.1" fill="#e31a1c" />
<line x1="330.00" y1="48.50" x2="330.00" y2="50.00" stroke="#b8b8b8" stroke-width="0.35" />
<circle cx="330.00" cy="50.00" r="1.1" fill="#33a02c" />
<line x1="336.00" y1="48.50" x2="336.00" y2="50.00" stroke="#b8b8b8" stroke-width="0.35" />
<circle cx="336.00" cy="50.00" r="1.1" fill="#33a02c" />
<line x1="338.50" y1="48.50" x2="338.50" y2="50.50" stroke="#b8b8b8" stroke-width="0.35" />
<circle cx="338.50" cy="50.50" r="1.1" fill="#ff7f00" />
<line x1="346.00" y1="48.50" x2="346.00" y2="50.50" stroke="#b8b8b8" stroke-width="0.35" />
<circle cx="346.00" cy="50.50" r="1.1" fill="#e31a1c" />
<line x1="347.50" y1="48.50" x2="347.50" y2="52.00" stroke="#b8b8b8" stroke-width="0.35" />
<circle cx="347.50" cy="52.00" r="1.1" fill="#e31a1c" />
<line x1="356.50" y1="48.50" x2="356.50" y2="50.00" stroke="#b8b8b8" stroke-width="0.35" />
<circle cx="356.50" cy="50.00" r="1.1" fill="#6a3d9a" />
<line x1="444.00" y1="48.50" x2="444.00" y2="56.00" stroke="#b8b8b8" stroke-width="0.35" />
<circle cx="444.00" cy="56.00" r="1.1" fill="#33a02c" />
<line x1="429.00" y1="48.50" x2="429.00" y2="52.00" stroke="#b8b8b8" stroke-width="0.35" />
<circle cx="429.00" cy="52.00" r="1.1" fill="#33a02c" />
<line x1="431.50" y1="48.50" x2="431.50" y2="53.00" stroke="#b8b8b8" stroke-width="0.35" />
<circle cx="431.50" cy="53.00" r="1.1" fill="#33a02c" />
<line x1="421.00" y1="48.50" x2="421.00" y2="52.00" stroke="#b8b8b8" stroke-width="0.35" />
<circle cx="421.00" cy="52.00" r="1.1" fill="#33a02c" />
<line x1="407.00" y1="48.50" x2="407.00" y2="52.00" stroke="#b8b8b8" stroke-width="0.35" />
<circle cx="407.00" cy="52.00" r="1.1" fill="#33a02c" />
<line x1="392.00" y1="48.50" x2="392.00" y2="51.50" stroke="#b8b8b8" stroke-width="0.35" />
<circle cx="392.00" cy="51.50" r="1.1" fill="#33a02c" />
<line x1="385.00" y1="48.50" x2="385.00" y2="51.50" stroke="#b8b8b8" stroke-width="0.35" />
<circle cx="385.00" cy="51.50" r="1.1" fill="#33a02c" />
<circle cx="369.50" cy="50.00" r="1.05" fill="#33a02c" />
<circle cx="370.92" cy="50.00" r="1.05" fill="#33a02c" />
<circle cx="372.34" cy="50.00" r="1.05" fill="#33a02c" />
<circle cx="373.76" cy="50.00" r="1.05" fill="#1f78b4" />
<circle cx="375.18" cy="50.00" r="1.05" fill="#33a02c" />
<circle cx="376.60" cy="50.00" r="1.05" fill="#33a02c" />
<circle cx="378.02" cy="50.00" r="1.05" fill="#33a02c" />
<circle cx="379.44" cy="50.00" r="1.05" fill="#6a3d9a" />
<circle cx="380.86" cy="50.00" r="1.05" fill="#33a02c" />
<circle cx="382.28" cy="50.00" r="1.05" fill="#33a02c" />
<circle cx="383.70" cy="50.00" r="1.05" fill="#e31a1c" />
<circle cx="385.12" cy="50.00" r="1.05" fill="#33a02c" />
<circle cx="386.54" cy="50.00" r="1.05" fill="#1f78b4" />
<circle cx="387.96" cy="50.00" r="1.05" fill="#33a02c" />
<circle cx="389.38" cy="50.00" r="1.05" fill="#33a02c" />
<circle cx="390.80" cy="50.00" r="1.05" fill="#33a02c" />
<circle cx="392.22" cy="50.00" r="1.05" fill="#ff7f00" />
<circle cx="393.64" cy="50.00" r="1.05" fill="#33a02c" />
<circle cx="395.06" cy="50.00" r="1.05" fill="#33a02c" />
<circle cx="396.48" cy="50.00" r="1.05" fill="#1f78b4" />
<circle cx="397.90" cy="50.00" r="1.05" fill="#33a02c" />
<circle cx="399.32" cy="50.00" r="1.05" fill="#33a02c" />
<circle cx="400.74" cy="50.00" r="1.05" fill="#33a02c" />
<circle cx="402.16" cy="50.00" r="1.05" fill="#6a3d9a" />
<circle cx="403.58" cy="50.00" r="1.05" fill="#33a02c" />
<circle cx="405.00" cy="50.00" r="1.05" fill="#33a02c" />
<circle cx="406.42" cy="50.00" r="1.05" fill="#33a02c" />
<circle cx="407.84" cy="50.00" r="1.05" fill="#33a02c" />
<circle cx="409.26" cy="50.00" r="1.05" fill="#33a02c" />
<circle cx="410.68" cy="50.00" r="1.05" fill="#1f78b4" />
<circle cx="412.10" cy="50.00" r="1.05" fill="#33a02c" />
<circle cx="413.52" cy="50.00" r="1.05" fill="#33a02c" />
<circle cx="414.94" cy="50.00" r="1.05" fill="#e31a1c" />
<circle cx="416.36" cy="50.00" r="1.05" fill="#33a02c" />
<circle cx="417.78" cy="50.00" r="1.05" fill="#33a02c" />
<circle cx="419.20" cy="50.00" r="1.05" fill="#33a02c" />
<circle cx="420.62" cy="50.00" r="1.05" fill="#33a02c" />
<circle cx="422.04" cy="50.00" r="1.05" fill="#33a02c" />
<circle cx="423.46" cy="50.00" r="1.05" fill="#1f78b4" />
<circle cx="424.88" cy="50.00" r="1.05" fill="#33a02c" />
<circle cx="426.30" cy="50.00" r="1.05" fill="#33a02c" />
<circle cx="427.72" cy="50.00" r="1.05" fill="#6a3d9a" />
<circle cx="429.14" cy="50.00" r="1.05" fill="#33a02c" />
<circle cx="430.56" cy="50.00" r="1.05" fill="#33a02c" />
<circle cx="431.98" cy="50.00" r="1.05" fill="#33a02c" />
<circle cx="433.40" cy="50.00" r="1.05" fill="#33a02c" />
<circle cx="434.82" cy="50.00" r="1.05" fill="#33a02c" />
<circle cx="436.24" cy="50.00" r="1.05" fill="#33a02c" />
<circle cx="437.66" cy="50.00" r="1.05" fill="#33a02c" />
<circle cx="439.08" cy="50.00" r="1.05" fill="#33a02c" />
<circle cx="440.50" cy="50.00" r="1.05" fill="#33a02c" />
<circle cx="441.92" cy="50.00" r="1.05" fill="#33a02c" />
<rect x="325.00" y="39.50" width="160.70" height="8.10" fill="#93a3a5" stroke="#6a7678" stroke-width="0.5"/>
<rect x="327.00" y="38.60" width="10.40" height="9.20" fill="#7c86c9" stroke="#4c559a" stroke-width="0.3" rx="0.8"/>
<rect x="369.60" y="37.70" width="72.40" height="10.90" fill="#f4a582" stroke="#c77b5b" stroke-width="0.3" rx="0.5"/>
<rect x="454.40" y="38.50" width="16.20" height="9.70" fill="#f7d58f" stroke="#c9a75f" stroke-width="0.3" rx="0.8"/>
<text x="332.70" y="44.90" font-size="3.5" text-anchor="middle" font-weight="bold" font-style="italic" fill="#112" textLength="14.00" lengthAdjust="spacingAndGlyphs" >P53_TAD</text>
<text x="405.80" y="44.90" font-size="3.5" text-anchor="middle" font-weight="bold" font-style="italic" fill="#211" textLength="5.60" lengthAdjust="spacingAndGlyphs" >P53</text>
<text x="463.00" y="44.90" font-size="3.5" text-anchor="middle" font-style="italic" fill="#211" textLength="21.00" lengthAdjust="spacingAndGlyphs" >P53_tetramer</text>
<text x="491.30" y="51.60" font-size="3.5" fill="#222" transform="rotate(-90 491.30 51.60)" >393 aa</text>
<text x="460.50" y="20.10" font-size="11.4" font-weight="bold" font-style="italic" textLength="26.00" lengthAdjust="spacingAndGlyphs" stroke="#000" stroke-width="0.3">TP53</text>
<circle cx="390.80" cy="82.50" r="1.55" fill="#e31a1c" />
<text x="397.10" y="84.50" font-size="5.9" fill="#222" stroke="#222" stroke-width="0.1">Nonsense Mutation</text>
<circle cx="390.80" cy="92.80" r="1.55" fill="#6a3d9a" />
<text x="397.10" y="94.80" font-size="5.9" fill="#222" stroke="#222" stroke-width="0.1">Frameshift Ins</text>
<circle cx="390.80" cy="103.10" r="1.55" fill="#1f78b4" />
<text x="397.10" y="105.10" font-size="5.9" fill="#222" stroke="#222" stroke-width="0.1">Frameshift Del</text>
<circle cx="464.00" cy="82.50" r="1.55" fill="#ff7f00" />
<text x="470.30" y="84.50" font-size="5.9" fill="#222" stroke="#222" stroke-width="0.1">Splice Site</text>
<circle cx="464.00" cy="92.80" r="1.55" fill="#33a02c" />
<text x="470.30" y="94.80" font-size="5.9" fill="#222" stroke="#222" stroke-width="0.1">Missense Mutation</text>
<circle cx="464.00" cy="103.10" r="1.55" fill="#fbf08c" />
<text x="470.30" y="105.10" font-size="5.9" fill="#222" stroke="#222" stroke-width="0.1">In-Frame Del</text>
<path d="M317.00 98.50H318.80V119.20H317.00" fill="none" stroke="#444" stroke-width="0.5"/>
<text x="315.60" y="99.60" font-size="3.0" text-anchor="end" fill="#333" >5</text>
<text x="315.60" y="120.30" font-size="3.0" text-anchor="end" fill="#333" >1</text>
<path d="M317.00 139.00H318.80V159.00H317.00" fill="none" stroke="#444" stroke-width="0.5"/>
<text x="315.60" y="140.10" font-size="3.0" text-anchor="end" fill="#333" >1</text>
<text x="315.60" y="160.10" font-size="3.0" text-anchor="end" fill="#333" >5</text>
<text x="323.50" y="102.90" font-size="5" font-weight="bold" font-style="italic" fill="#111" textLength="60.20" lengthAdjust="spacingAndGlyphs" stroke="#000" stroke-width="0.22">mc3_AA [4.91%; N = 163]</text>
<text x="323.50" y="154.70" font-size="5" font-weight="bold" font-style="italic" fill="#111" textLength="61.50" lengthAdjust="spacingAndGlyphs" stroke="#000" stroke-width="0.22">mc3_EA [0.98%; N = 711]</text>
<line x1="365.50" y1="124.00" x2="365.50" y2="113.60" stroke="#b8b8b8" stroke-width="0.35" />
<circle cx="365.50" cy="113.60" r="0.85" fill="#33a02c" />
<line x1="380.00" y1="124.00" x2="380.00" y2="118.90" stroke="#b8b8b8" stroke-width="0.35" />
<circle cx="380.00" cy="118.90" r="0.85" fill="#1f78b4" />
<line x1="431.20" y1="124.00" x2="431.20" y2="113.60" stroke="#b8b8b8" stroke-width="0.35" />
<circle cx="431.20" cy="113.60" r="0.85" fill="#33a02c" />
<line x1="434.80" y1="124.00" x2="434.80" y2="118.90" stroke="#b8b8b8" stroke-width="0.35" />
<circle cx="434.80" cy="118.90" r="0.85" fill="#33a02c" />
<line x1="449.20" y1="124.00" x2="449.20" y2="118.90" stroke="#b8b8b8" stroke-width="0.35" />
<circle cx="449.20" cy="118.90" r="0.85" fill="#33a02c" />
<line x1="477.90" y1="124.00" x2="477.90" y2="118.90" stroke="#b8b8b8" stroke-width="0.35" />
<circle cx="477.90" cy="118.90" r="0.85" fill="#1f78b4" />
<line x1="345.00" y1="134.50" x2="345.00" y2="138.60" stroke="#b8b8b8" stroke-width="0.35" />
<circle cx="345.00" cy="138.60" r="0.85" fill="#33a02c" />
<line x1="365.50" y1="134.50" x2="365.50" y2="138.60" stroke="#b8b8b8" stroke-width="0.35" />
<circle cx="365.50" cy="138.60" r="0.85" fill="#33a02c" />
<line x1="374.60" y1="134.50" x2="374.60" y2="138.60" stroke="#b8b8b8" stroke-width="0.35" />
<circle cx="374.60" cy="138.60" r="0.85" fill="#1f78b4" />
<line x1="406.90" y1="134.50" x2="406.90" y2="138.60" stroke="#b8b8b8" stroke-width="0.35" />
<circle cx="406.90" cy="138.60" r="0.85" fill="#33a02c" />
<line x1="414.20" y1="134.50" x2="414.20" y2="138.60" stroke="#b8b8b8" stroke-width="0.35" />
<circle cx="414.20" cy="138.60" r="0.85" fill="#33a02c" />
<line x1="416.30" y1="134.50" x2="416.30" y2="138.60" stroke="#b8b8b8" stroke-width="0.35" />
<circle cx="416.30" cy="138.60" r="0.85" fill="#33a02c" />
<line x1="449.70" y1="134.50" x2="449.70" y2="138.60" stroke="#b8b8b8" stroke-width="0.35" />
<circle cx="449.70" cy="138.60" r="0.85" fill="#33a02c" />
<rect x="325.40" y="125.00" width="162.30" height="8.50" fill="#93a3a5" stroke="#6a7678" stroke-width="0.5"/>
<rect x="389.80" y="123.90" width="9.70" height="10.80" fill="#7c86c9" stroke="#4c559a" stroke-width="0.3" rx="0.6"/>
<rect x="399.50" y="123.90" width="11.30" height="10.80" fill="#f4a582" stroke="#c77b5b" stroke-width="0.3"/>
<rect x="410.80" y="123.90" width="62.40" height="10.80" fill="#f7d58f" stroke="#c9a75f" stroke-width="0.3"/>
<rect x="473.20" y="123.90" width="2.80" height="10.80" fill="#f4a582" stroke="#c77b5b" stroke-width="0.3"/>
<text x="392.40" y="130.60" font-size="3.2" text-anchor="middle" font-weight="bold" font-style="italic" fill="#112" textLength="13.60" lengthAdjust="spacingAndGlyphs" >F-box-like</text>
<text x="430.80" y="130.50" font-size="3.2" text-anchor="middle" font-style="italic" fill="#221" textLength="15.50" lengthAdjust="spacingAndGlyphs" >COG2319</text>
<text x="447.60" y="130.50" font-size="3.2" text-anchor="middle" font-style="italic" fill="#221" textLength="9.50" lengthAdjust="spacingAndGlyphs" >WD40</text>
<text x="491.60" y="136.60" font-size="3.5" fill="#222" transform="rotate(-90 491.60 136.60)" >710 aa</text>
<text x="462.70" y="154.00" font-size="11.7" font-weight="bold" font-style="italic" textLength="36.80" lengthAdjust="spacingAndGlyphs" stroke="#000" stroke-width="0.3">FBXW7</text>
</g>
<g id="panelC">
<text x="-0.10" y="178.00" font-size="10.2" font-weight="bold" stroke="#000" stroke-width="0.4">C</text>
<rect x="72.90" y="179.25" width="81.90" height="7.30" fill="#000" />
<text x="72.30" y="184.25" font-size="3.75" text-anchor="end" stroke="#111" stroke-width="0.07">PROTEASOME</text>
<rect x="72.90" y="187.97" width="72.30" height="7.30" fill="#6e6e6e" />
<text x="72.30" y="192.97" font-size="3.75" text-anchor="end" stroke="#111" stroke-width="0.07">PARKINSONS DISEASE</text>
<rect x="72.90" y="196.69" width="70.00" height="7.30" fill="#c2c2c2" />
<text x="72.30" y="201.69" font-size="3.75" text-anchor="end" stroke="#111" stroke-width="0.07">OXIDATIVE PHOSPHORYLATION</text>
<rect x="72.90" y="205.41" width="65.10" height="7.30" fill="#000" />
<text x="72.30" y="210.41" font-size="3.75" text-anchor="end" stroke="#111" stroke-width="0.07">TRYPTOPHAN METABOLISM</text>
<rect x="72.90" y="214.13" width="60.40" height="7.30" fill="#6e6e6e" />
<text x="72.30" y="219.13" font-size="3.75" text-anchor="end" stroke="#111" stroke-width="0.07">RNA POLYMERASE</text>
<rect x="72.90" y="222.85" width="52.10" height="7.30" fill="#0d0d0d" />
<text x="72.30" y="225.90" font-size="3.75" text-anchor="end" stroke="#111" stroke-width="0.07">GLYOXYLATE AND</text>
<text x="72.30" y="229.70" font-size="3.75" text-anchor="end" stroke="#111" stroke-width="0.07">DICARBOXYLATE METABOLISM</text>
<rect x="72.90" y="231.57" width="51.20" height="7.30" fill="#000" />
<text x="72.30" y="236.57" font-size="3.75" text-anchor="end" stroke="#111" stroke-width="0.07">PYRIMIDINE METABOLISM</text>
<rect x="72.90" y="240.29" width="46.50" height="7.30" fill="#c8c8c8" />
<text x="72.30" y="245.29" font-size="3.75" text-anchor="end" stroke="#111" stroke-width="0.07">SPLICEOSOME</text>
<rect x="72.90" y="249.01" width="44.60" height="7.30" fill="#767676" />
<text x="72.30" y="254.01" font-size="3.75" text-anchor="end" stroke="#111" stroke-width="0.07">HUNTINGTONS DISEASE</text>
<rect x="72.90" y="257.73" width="43.20" height="7.30" fill="#c6c6c6" />
<text x="72.30" y="262.73" font-size="3.75" text-anchor="end" stroke="#111" stroke-width="0.07">PYRUVATE METABOLISM</text>
<rect x="72.90" y="266.45" width="43.10" height="7.30" fill="#cbcbcb" />
<text x="72.30" y="271.45" font-size="3.75" text-anchor="end" stroke="#111" stroke-width="0.07">CITRATE CYCLE TCA CYCLE</text>
<rect x="72.90" y="275.17" width="41.30" height="7.30" fill="#cbcbcb" />
<text x="72.30" y="280.17" font-size="3.75" text-anchor="end" stroke="#111" stroke-width="0.07">GALACTOSE METABOLISM</text>
<rect x="72.90" y="283.89" width="36.50" height="7.30" fill="#cbcbcb" />
<text x="72.30" y="288.89" font-size="3.75" text-anchor="end" stroke="#111" stroke-width="0.07">ALZHEIMERS DISEASE</text>
<rect x="72.90" y="292.61" width="32.70" height="7.30" fill="#cdcdcd" />
<text x="72.30" y="297.61" font-size="3.75" text-anchor="end" stroke="#111" stroke-width="0.07">RIBOSOME</text>
<rect x="37.40" y="301.33" width="35.50" height="7.30" fill="#6e6e6e" />
<text x="73.80" y="306.33" font-size="3.75" stroke="#111" stroke-width="0.07">CALCIUM SIGNALING PATHWAY</text>
<rect x="31.20" y="310.05" width="41.70" height="7.30" fill="#c8c8c8" />
<text x="73.80" y="315.05" font-size="3.75" stroke="#111" stroke-width="0.07">AXON GUIDANCE</text>
<rect x="25.30" y="318.77" width="47.60" height="7.30" fill="#6e6e6e" />
<text x="73.80" y="323.77" font-size="3.75" stroke="#111" stroke-width="0.07">VASCULAR SMOOTH MUSCLE CONTRACTION</text>
<rect x="25.30" y="327.49" width="47.60" height="7.30" fill="#c2c2c2" />
<text x="73.80" y="332.49" font-size="3.75" stroke="#111" stroke-width="0.07">PHOSPHATIDYLINOSITOL SIGNALING SYSTEM</text>
<rect x="19.00" y="336.21" width="53.90" height="7.30" fill="#000" />
<text x="73.80" y="341.21" font-size="3.75" stroke="#111" stroke-width="0.07">INOSITOL PHOSPHATE METABOLISM</text>
<line x1="12.80" y1="345.00" x2="160.20" y2="345.00" stroke="#000" stroke-width="1.0" />
<text x="40.50" y="351.30" font-size="4.6" text-anchor="middle" fill="#222" >−0.01</text>
<text x="72.80" y="351.30" font-size="4.6" text-anchor="middle" fill="#222" >0.00</text>
<text x="104.90" y="351.30" font-size="4.6" text-anchor="middle" fill="#222" >0.01</text>
<text x="137.80" y="351.30" font-size="4.6" text-anchor="middle" fill="#222" >0.02</text>
<text x="90.00" y="358.20" font-size="6.4" text-anchor="middle" fill="#111" >Coefficient</text>
<text x="130.50" y="254.30" font-size="5.9" fill="#111" >−log<tspan font-size="3.6" dy="1.3">10</tspan><tspan dy="-1.3">(fdr1.ln.adj)</tspan></text>
<defs><linearGradient id="gr" x1="0" y1="0" x2="0" y2="1"><stop offset="0" stop-color="#000"/><stop offset="0.5" stop-color="#666"/><stop offset="1" stop-color="#d2d2d2"/></linearGradient></defs>
<rect x="142.60" y="259.30" width="6.10" height="30.00" fill="url(#gr)" />
<text x="150.30" y="262.90" font-size="4.95" fill="#111" stroke="#111" stroke-width="0.09">1.30</text>
<text x="150.30" y="268.70" font-size="4.95" fill="#111" stroke="#111" stroke-width="0.09">1.25</text>
<text x="150.30" y="274.60" font-size="4.95" fill="#111" stroke="#111" stroke-width="0.09">1.20</text>
<text x="150.30" y="280.40" font-size="4.95" fill="#111" stroke="#111" stroke-width="0.09">1.15</text>
<text x="150.30" y="286.20" font-size="4.95" fill="#111" stroke="#111" stroke-width="0.09">1.10</text>
</g>
<g id="panelD">
<text x="196.70" y="180.80" font-size="10.3" font-weight="bold" stroke="#000" stroke-width="0.4">D</text>
<rect x="207.50" y="356.00" width="92.00" height="6.00" fill="#f8f8f8" />
<g fill="#c6c6c6" fill-opacity="0.68">
<circle cx="251.9" cy="272.0" r=".9"/>
<circle cx="242.7" cy="249.9" r=".9"/>
<circle cx="242.5" cy="291.3" r=".9"/>
<circle cx="249.6" cy="270.7" r=".9"/>
<circle cx="242.7" cy="234.8" r=".9"/>
<circle cx="243.0" cy="257.4" r=".9"/>
<circle cx="243.6" cy="312.5" r=".9"/>
<circle cx="245.1" cy="240.0" r=".9"/>
<circle cx="250.7" cy="313.2" r=".9"/>
<circle cx="247.9" cy="314.8" r=".9"/>
<circle cx="255.2" cy="255.8" r=".9"/>
<circle cx="246.2" cy="265.9" r=".9"/>
<circle cx="246.5" cy="255.7" r=".9"/>
<circle cx="254.5" cy="253.3" r=".9"/>
<circle cx="251.7" cy="248.6" r=".9"/>
<circle cx="247.5" cy="230.2" r=".9"/>
<circle cx="242.5" cy="274.5" r=".9"/>
<circle cx="244.9" cy="267.7" r=".9"/>
<circle cx="246.6" cy="277.5" r=".9"/>
<circle cx="250.9" cy="292.1" r=".9"/>
<circle cx="254.2" cy="287.8" r=".9"/>
<circle cx="252.6" cy="257.6" r=".9"/>
<circle cx="249.9" cy="263.2" r=".9"/>
<circle cx="255.4" cy="227.0" r=".9"/>
<circle cx="257.1" cy="267.6" r=".9"/>
<circle cx="243.5" cy="288.1" r=".9"/>
<circle cx="244.0" cy="306.7" r=".9"/>
<circle cx="249.3" cy="240.8" r=".9"/>
<circle cx="253.7" cy="223.2" r=".9"/>
<circle cx="250.7" cy="254.2" r=".9"/>
<circle cx="252.6" cy="246.9" r=".9"/>
<circle cx="251.0" cy="282.2" r=".9"/>
<circle cx="254.9" cy="292.4" r=".9"/>
<circle cx="256.5" cy="279.9" r=".9"/>
<circle cx="242.6" cy="306.5" r=".9"/>
<circle cx="252.7" cy="257.7" r=".9"/>
<circle cx="254.6" cy="319.2" r=".9"/>
<circle cx="252.2" cy="270.7" r=".9"/>
<circle cx="242.0" cy="236.9" r=".9"/>
<circle cx="243.5" cy="281.5" r=".9"/>
<circle cx="242.5" cy="260.4" r=".9"/>
<circle cx="245.5" cy="262.9" r=".9"/>
<circle cx="247.8" cy="279.6" r=".9"/>
<circle cx="248.7" cy="256.4" r=".9"/>
<circle cx="250.3" cy="273.1" r=".9"/>
<circle cx="255.3" cy="225.0" r=".9"/>
<circle cx="246.0" cy="300.2" r=".9"/>
<circle cx="255.6" cy="288.0" r=".9"/>
<circle cx="256.7" cy="250.8" r=".9"/>
<circle cx="245.3" cy="254.1" r=".9"/>
<circle cx="245.3" cy="250.0" r=".9"/>
<circle cx="245.8" cy="302.8" r=".9"/>
<circle cx="241.7" cy="261.0" r=".9"/>
<circle cx="250.5" cy="288.7" r=".9"/>
<circle cx="256.7" cy="251.1" r=".9"/>
<circle cx="251.4" cy="277.2" r=".9"/>
<circle cx="252.3" cy="296.8" r=".9"/>
<circle cx="253.9" cy="206.4" r=".9"/>
<circle cx="255.4" cy="244.1" r=".9"/>
<circle cx="247.9" cy="256.1" r=".9"/>
<circle cx="243.2" cy="292.0" r=".9"/>
<circle cx="242.7" cy="271.4" r=".9"/>
<circle cx="244.9" cy="272.3" r=".9"/>
<circle cx="242.4" cy="250.9" r=".9"/>
<circle cx="241.6" cy="242.3" r=".9"/>
<circle cx="247.3" cy="256.9" r=".9"/>
<circle cx="242.0" cy="253.8" r=".9"/>
<circle cx="243.9" cy="236.6" r=".9"/>
<circle cx="245.6" cy="292.8" r=".9"/>
<circle cx="243.5" cy="280.3" r=".9"/>
<circle cx="255.0" cy="242.2" r=".9"/>
<circle cx="249.2" cy="232.4" r=".9"/>
<circle cx="243.0" cy="266.0" r=".9"/>
<circle cx="245.8" cy="243.5" r=".9"/>
<circle cx="254.7" cy="248.8" r=".9"/>
<circle cx="256.6" cy="261.3" r=".9"/>
<circle cx="249.9" cy="259.3" r=".9"/>
<circle cx="242.0" cy="242.8" r=".9"/>
<circle cx="249.9" cy="235.9" r=".9"/>
<circle cx="252.6" cy="207.7" r=".9"/>
<circle cx="245.7" cy="272.3" r=".9"/>
<circle cx="253.8" cy="276.2" r=".9"/>
<circle cx="250.0" cy="251.7" r=".9"/>
<circle cx="245.1" cy="259.9" r=".9"/>
<circle cx="254.4" cy="289.9" r=".9"/>
<circle cx="254.3" cy="208.6" r=".9"/>
<circle cx="254.5" cy="269.9" r=".9"/>
<circle cx="249.8" cy="265.9" r=".9"/>
<circle cx="247.2" cy="285.2" r=".9"/>
<circle cx="246.0" cy="257.9" r=".9"/>
<circle cx="245.7" cy="263.4" r=".9"/>
<circle cx="248.7" cy="290.0" r=".9"/>
<circle cx="256.4" cy="332.0" r=".9"/>
<circle cx="247.4" cy="193.2" r=".9"/>
<circle cx="245.1" cy="270.0" r=".9"/>
<circle cx="244.8" cy="261.8" r=".9"/>
<circle cx="251.5" cy="245.8" r=".9"/>
<circle cx="249.2" cy="219.9" r=".9"/>
<circle cx="251.9" cy="296.9" r=".9"/>
<circle cx="252.0" cy="260.9" r=".9"/>
<circle cx="256.0" cy="276.1" r=".9"/>
<circle cx="249.2" cy="254.9" r=".9"/>
<circle cx="244.4" cy="311.5" r=".9"/>
<circle cx="254.3" cy="258.3" r=".9"/>
<circle cx="257.0" cy="289.7" r=".9"/>
<circle cx="256.6" cy="287.7" r=".9"/>
<circle cx="253.1" cy="246.9" r=".9"/>
<circle cx="244.0" cy="257.4" r=".9"/>
<circle cx="255.9" cy="251.5" r=".9"/>
<circle cx="254.7" cy="259.0" r=".9"/>
<circle cx="257.1" cy="279.8" r=".9"/>
<circle cx="250.3" cy="279.3" r=".9"/>
<circle cx="243.7" cy="286.9" r=".9"/>
<circle cx="251.9" cy="188.4" r=".9"/>
<circle cx="249.9" cy="257.8" r=".9"/>
<circle cx="255.4" cy="236.5" r=".9"/>
<circle cx="254.7" cy="277.0" r=".9"/>
<circle cx="246.2" cy="259.3" r=".9"/>
<circle cx="245.4" cy="243.3" r=".9"/>
<circle cx="248.2" cy="283.7" r=".9"/>
<circle cx="243.7" cy="276.1" r=".9"/>
<circle cx="248.8" cy="241.9" r=".9"/>
<circle cx="250.8" cy="279.0" r=".9"/>
<circle cx="256.1" cy="239.8" r=".9"/>
<circle cx="249.5" cy="281.6" r=".9"/>
<circle cx="241.9" cy="298.9" r=".9"/>
<circle cx="248.6" cy="271.5" r=".9"/>
<circle cx="254.2" cy="263.6" r=".9"/>
<circle cx="244.3" cy="262.3" r=".9"/>
<circle cx="250.4" cy="310.2" r=".9"/>
<circle cx="246.8" cy="256.9" r=".9"/>
<circle cx="254.0" cy="301.0" r=".9"/>
<circle cx="243.3" cy="268.8" r=".9"/>
<circle cx="246.0" cy="284.8" r=".9"/>
<circle cx="253.8" cy="272.6" r=".9"/>
<circle cx="253.6" cy="301.5" r=".9"/>
<circle cx="256.0" cy="266.4" r=".9"/>
<circle cx="249.6" cy="301.7" r=".9"/>
<circle cx="249.7" cy="250.8" r=".9"/>
<circle cx="250.0" cy="275.7" r=".9"/>
<circle cx="249.2" cy="294.1" r=".9"/>
<circle cx="255.4" cy="223.0" r=".9"/>
<circle cx="256.5" cy="280.6" r=".9"/>
<circle cx="256.5" cy="266.8" r=".9"/>
<circle cx="254.9" cy="227.8" r=".9"/>
<circle cx="248.6" cy="255.1" r=".9"/>
<circle cx="242.7" cy="253.5" r=".9"/>
<circle cx="252.2" cy="263.9" r=".9"/>
<circle cx="254.0" cy="253.4" r=".9"/>
<circle cx="252.9" cy="251.3" r=".9"/>
<circle cx="252.0" cy="274.6" r=".9"/>
<circle cx="256.9" cy="227.5" r=".9"/>
<circle cx="245.1" cy="218.0" r=".9"/>
<circle cx="249.3" cy="236.9" r=".9"/>
<circle cx="257.2" cy="273.1" r=".9"/>
<circle cx="248.4" cy="256.1" r=".9"/>
<circle cx="249.7" cy="279.4" r=".9"/>
<circle cx="246.6" cy="274.7" r=".9"/>
<circle cx="253.0" cy="248.5" r=".9"/>
<circle cx="248.6" cy="228.3" r=".9"/>
<circle cx="241.9" cy="260.1" r=".9"/>
<circle cx="249.7" cy="284.3" r=".9"/>
<circle cx="242.6" cy="229.5" r=".9"/>
<circle cx="257.0" cy="214.1" r=".9"/>
<circle cx="243.3" cy="269.3" r=".9"/>
<circle cx="253.9" cy="265.4" r=".9"/>
<circle cx="245.9" cy="256.5" r=".9"/>
<circle cx="256.0" cy="243.9" r=".9"/>
<circle cx="254.5" cy="242.7" r=".9"/>
<circle cx="256.1" cy="265.5" r=".9"/>
<circle cx="250.6" cy="248.3" r=".9"/>
<circle cx="242.5" cy="268.4" r=".9"/>
<circle cx="252.5" cy="276.4" r=".9"/>
<circle cx="256.4" cy="274.5" r=".9"/>
<circle cx="251.6" cy="259.5" r=".9"/>
<circle cx="255.1" cy="260.8" r=".9"/>
<circle cx="242.7" cy="276.0" r=".9"/>
<circle cx="247.0" cy="244.0" r=".9"/>
<circle cx="250.3" cy="288.6" r=".9"/>
<circle cx="243.6" cy="244.2" r=".9"/>
<circle cx="249.9" cy="274.7" r=".9"/>
<circle cx="244.2" cy="263.6" r=".9"/>
<circle cx="242.4" cy="250.8" r=".9"/>
<circle cx="246.4" cy="257.2" r=".9"/>
<circle cx="253.6" cy="240.9" r=".9"/>
<circle cx="244.4" cy="273.0" r=".9"/>
<circle cx="247.1" cy="231.8" r=".9"/>
<circle cx="241.8" cy="242.9" r=".9"/>
<circle cx="253.2" cy="262.1" r=".9"/>
<circle cx="249.1" cy="282.3" r=".9"/>
<circle cx="256.4" cy="270.5" r=".9"/>
<circle cx="248.4" cy="222.8" r=".9"/>
<circle cx="249.4" cy="231.7" r=".9"/>
<circle cx="249.6" cy="250.0" r=".9"/>
<circle cx="252.5" cy="289.4" r=".9"/>
<circle cx="254.8" cy="238.4" r=".9"/>
<circle cx="252.8" cy="267.5" r=".9"/>
<circle cx="247.1" cy="283.8" r=".9"/>
<circle cx="242.5" cy="286.7" r=".9"/>
<circle cx="253.3" cy="257.0" r=".9"/>
<circle cx="245.6" cy="256.6" r=".9"/>
<circle cx="254.9" cy="258.3" r=".9"/>
<circle cx="255.4" cy="254.3" r=".9"/>
<circle cx="245.4" cy="275.8" r=".9"/>
<circle cx="246.2" cy="285.1" r=".9"/>
<circle cx="248.6" cy="280.9" r=".9"/>
<circle cx="245.8" cy="260.3" r=".9"/>
<circle cx="250.2" cy="189.6" r=".9"/>
<circle cx="245.5" cy="282.9" r=".9"/>
<circle cx="247.2" cy="240.4" r=".9"/>
<circle cx="241.6" cy="269.9" r=".9"/>
<circle cx="249.5" cy="288.6" r=".9"/>
<circle cx="244.8" cy="242.5" r=".9"/>
<circle cx="245.8" cy="267.5" r=".9"/>
<circle cx="243.0" cy="264.7" r=".9"/>
<circle cx="242.0" cy="271.4" r=".9"/>
<circle cx="246.4" cy="259.6" r=".9"/>
<circle cx="250.0" cy="260.5" r=".9"/>
<circle cx="253.5" cy="226.6" r=".9"/>
<circle cx="255.5" cy="289.6" r=".9"/>
<circle cx="247.8" cy="302.7" r=".9"/>
<circle cx="244.0" cy="302.9" r=".9"/>
<circle cx="253.0" cy="190.7" r=".9"/>
<circle cx="254.8" cy="269.9" r=".9"/>
<circle cx="255.7" cy="271.3" r=".9"/>
<circle cx="254.4" cy="297.2" r=".9"/>
<circle cx="243.8" cy="298.2" r=".9"/>
<circle cx="254.8" cy="298.3" r=".9"/>
<circle cx="254.3" cy="269.7" r=".9"/>
<circle cx="255.7" cy="247.0" r=".9"/>
<circle cx="252.4" cy="298.4" r=".9"/>
<circle cx="242.1" cy="271.8" r=".9"/>
<circle cx="243.7" cy="284.1" r=".9"/>
<circle cx="254.8" cy="273.3" r=".9"/>
<circle cx="250.4" cy="254.2" r=".9"/>
<circle cx="252.4" cy="292.6" r=".9"/>
<circle cx="249.3" cy="293.6" r=".9"/>
<circle cx="253.4" cy="213.2" r=".9"/>
<circle cx="249.5" cy="263.5" r=".9"/>
<circle cx="242.6" cy="305.8" r=".9"/>
<circle cx="253.2" cy="273.9" r=".9"/>
<circle cx="245.8" cy="264.7" r=".9"/>
<circle cx="253.1" cy="253.3" r=".9"/>
<circle cx="257.0" cy="251.5" r=".9"/>
<circle cx="249.4" cy="219.2" r=".9"/>
<circle cx="252.4" cy="288.9" r=".9"/>
<circle cx="253.7" cy="242.5" r=".9"/>
<circle cx="242.8" cy="295.2" r=".9"/>
<circle cx="243.9" cy="292.3" r=".9"/>
<circle cx="246.4" cy="265.8" r=".9"/>
<circle cx="250.6" cy="217.2" r=".9"/>
<circle cx="245.8" cy="254.4" r=".9"/>
<circle cx="252.2" cy="263.8" r=".9"/>
<circle cx="246.2" cy="279.9" r=".9"/>
<circle cx="249.8" cy="304.9" r=".9"/>
<circle cx="243.5" cy="296.0" r=".9"/>
<circle cx="255.7" cy="257.5" r=".9"/>
<circle cx="256.4" cy="239.7" r=".9"/>
<circle cx="241.9" cy="189.1" r=".9"/>
<circle cx="256.9" cy="316.1" r=".9"/>
<circle cx="248.7" cy="251.0" r=".9"/>
<circle cx="256.5" cy="266.9" r=".9"/>
<circle cx="244.9" cy="245.0" r=".9"/>
<circle cx="249.9" cy="278.5" r=".9"/>
<circle cx="256.7" cy="272.4" r=".9"/>
<circle cx="249.6" cy="228.8" r=".9"/>
<circle cx="255.6" cy="225.2" r=".9"/>
<circle cx="255.8" cy="270.6" r=".9"/>
<circle cx="249.3" cy="284.6" r=".9"/>
<circle cx="249.4" cy="262.2" r=".9"/>
<circle cx="248.7" cy="264.2" r=".9"/>
<circle cx="247.0" cy="269.7" r=".9"/>
<circle cx="246.6" cy="249.6" r=".9"/>
<circle cx="253.5" cy="263.7" r=".9"/>
<circle cx="254.9" cy="266.0" r=".9"/>
<circle cx="252.9" cy="216.7" r=".9"/>
<circle cx="255.8" cy="219.6" r=".9"/>
<circle cx="247.8" cy="271.5" r=".9"/>
<circle cx="257.4" cy="237.7" r=".9"/>
<circle cx="248.4" cy="287.6" r=".9"/>
<circle cx="245.9" cy="279.1" r=".9"/>
<circle cx="254.8" cy="251.9" r=".9"/>
<circle cx="246.1" cy="260.6" r=".9"/>
<circle cx="245.8" cy="244.6" r=".9"/>
<circle cx="249.7" cy="273.2" r=".9"/>
<circle cx="256.7" cy="254.3" r=".9"/>
<circle cx="255.6" cy="238.7" r=".9"/>
<circle cx="256.0" cy="249.2" r=".9"/>
<circle cx="256.5" cy="302.2" r=".9"/>
<circle cx="242.4" cy="308.3" r=".9"/>
<circle cx="253.2" cy="278.6" r=".9"/>
<circle cx="251.8" cy="310.4" r=".9"/>
<circle cx="246.1" cy="250.0" r=".9"/>
<circle cx="243.6" cy="201.9" r=".9"/>
<circle cx="249.1" cy="244.7" r=".9"/>
<circle cx="253.3" cy="278.0" r=".9"/>
<circle cx="257.0" cy="244.5" r=".9"/>
<circle cx="246.4" cy="267.3" r=".9"/>
<circle cx="250.4" cy="222.7" r=".9"/>
<circle cx="244.2" cy="278.3" r=".9"/>
<circle cx="244.9" cy="253.9" r=".9"/>
<circle cx="245.1" cy="236.6" r=".9"/>
<circle cx="255.9" cy="283.4" r=".9"/>
<circle cx="243.8" cy="233.2" r=".9"/>
<circle cx="244.6" cy="265.3" r=".9"/>
<circle cx="243.0" cy="242.4" r=".9"/>
<circle cx="245.4" cy="250.4" r=".9"/>
<circle cx="255.6" cy="266.6" r=".9"/>
<circle cx="253.4" cy="227.3" r=".9"/>
<circle cx="249.9" cy="290.0" r=".9"/>
<circle cx="247.6" cy="249.1" r=".9"/>
<circle cx="246.0" cy="270.0" r=".9"/>
<circle cx="256.9" cy="255.8" r=".9"/>
<circle cx="251.5" cy="240.7" r=".9"/>
<circle cx="255.2" cy="240.4" r=".9"/>
<circle cx="245.5" cy="259.7" r=".9"/>
<circle cx="247.9" cy="242.2" r=".9"/>
<circle cx="255.0" cy="331.9" r=".9"/>
<circle cx="255.4" cy="240.8" r=".9"/>
<circle cx="252.8" cy="257.3" r=".9"/>
<circle cx="255.8" cy="263.6" r=".9"/>
<circle cx="241.6" cy="302.3" r=".9"/>
<circle cx="247.8" cy="258.2" r=".9"/>
<circle cx="255.1" cy="216.4" r=".9"/>
<circle cx="257.0" cy="288.4" r=".9"/>
<circle cx="244.0" cy="264.5" r=".9"/>
<circle cx="249.9" cy="250.8" r=".9"/>
<circle cx="253.0" cy="293.0" r=".9"/>
<circle cx="251.8" cy="327.0" r=".9"/>
<circle cx="250.3" cy="261.6" r=".9"/>
<circle cx="242.2" cy="296.3" r=".9"/>
<circle cx="256.1" cy="260.4" r=".9"/>
<circle cx="251.8" cy="285.1" r=".9"/>
<circle cx="245.6" cy="269.6" r=".9"/>
<circle cx="251.7" cy="250.4" r=".9"/>
<circle cx="242.7" cy="269.0" r=".9"/>
<circle cx="249.9" cy="277.9" r=".9"/>
<circle cx="245.1" cy="289.3" r=".9"/>
<circle cx="251.1" cy="278.8" r=".9"/>
<circle cx="248.9" cy="240.3" r=".9"/>
<circle cx="256.8" cy="263.0" r=".9"/>
<circle cx="249.1" cy="301.3" r=".9"/>
<circle cx="245.3" cy="311.6" r=".9"/>
<circle cx="252.7" cy="263.2" r=".9"/>
<circle cx="246.5" cy="191.4" r=".9"/>
<circle cx="252.3" cy="231.1" r=".9"/>
<circle cx="248.2" cy="260.0" r=".9"/>
<circle cx="256.2" cy="266.5" r=".9"/>
<circle cx="245.2" cy="222.0" r=".9"/>
<circle cx="248.2" cy="239.1" r=".9"/>
<circle cx="252.4" cy="259.0" r=".9"/>
<circle cx="253.3" cy="248.1" r=".9"/>
<circle cx="249.6" cy="215.9" r=".9"/>
<circle cx="246.5" cy="243.5" r=".9"/>
<circle cx="254.6" cy="191.5" r=".9"/>
<circle cx="253.6" cy="262.1" r=".9"/>
<circle cx="246.3" cy="244.4" r=".9"/>
<circle cx="244.6" cy="232.5" r=".9"/>
<circle cx="245.1" cy="274.6" r=".9"/>
<circle cx="256.6" cy="301.5" r=".9"/>
<circle cx="243.9" cy="243.4" r=".9"/>
<circle cx="257.0" cy="280.2" r=".9"/>
<circle cx="243.8" cy="252.2" r=".9"/>
<circle cx="247.8" cy="255.0" r=".9"/>
<circle cx="255.8" cy="261.4" r=".9"/>
<circle cx="257.4" cy="229.8" r=".9"/>
<circle cx="256.3" cy="295.8" r=".9"/>
<circle cx="256.4" cy="273.4" r=".9"/>
<circle cx="253.4" cy="248.4" r=".9"/>
<circle cx="247.6" cy="222.9" r=".9"/>
<circle cx="247.5" cy="256.1" r=".9"/>
<circle cx="241.6" cy="273.2" r=".9"/>
<circle cx="246.0" cy="249.3" r=".9"/>
<circle cx="243.6" cy="307.3" r=".9"/>
<circle cx="256.8" cy="206.9" r=".9"/>
<circle cx="254.6" cy="257.4" r=".9"/>
<circle cx="254.6" cy="238.5" r=".9"/>
<circle cx="249.1" cy="272.9" r=".9"/>
<circle cx="247.5" cy="260.8" r=".9"/>
<circle cx="247.4" cy="248.1" r=".9"/>
<circle cx="255.8" cy="273.7" r=".9"/>
<circle cx="254.4" cy="235.5" r=".9"/>
<circle cx="253.7" cy="259.0" r=".9"/>
<circle cx="242.6" cy="257.2" r=".9"/>
<circle cx="256.1" cy="262.7" r=".9"/>
<circle cx="255.8" cy="266.7" r=".9"/>
<circle cx="247.0" cy="216.9" r=".9"/>
<circle cx="251.3" cy="274.7" r=".9"/>
<circle cx="245.7" cy="193.0" r=".9"/>
<circle cx="246.0" cy="269.8" r=".9"/>
<circle cx="241.7" cy="289.1" r=".9"/>
<circle cx="251.6" cy="262.3" r=".9"/>
<circle cx="256.5" cy="328.6" r=".9"/>
<circle cx="249.1" cy="243.8" r=".9"/>
<circle cx="256.7" cy="261.4" r=".9"/>
<circle cx="245.6" cy="237.3" r=".9"/>
<circle cx="248.4" cy="272.7" r=".9"/>
<circle cx="244.5" cy="330.5" r=".9"/>
<circle cx="254.3" cy="261.9" r=".9"/>
<circle cx="253.8" cy="268.5" r=".9"/>
<circle cx="251.2" cy="318.0" r=".9"/>
<circle cx="247.3" cy="276.4" r=".9"/>
<circle cx="254.0" cy="242.3" r=".9"/>
<circle cx="253.5" cy="247.8" r=".9"/>
<circle cx="245.5" cy="255.5" r=".9"/>
<circle cx="250.3" cy="257.7" r=".9"/>
<circle cx="246.7" cy="261.6" r=".9"/>
<circle cx="257.2" cy="205.4" r=".9"/>
<circle cx="245.8" cy="272.0" r=".9"/>
<circle cx="249.5" cy="253.4" r=".9"/>
<circle cx="252.8" cy="258.1" r=".9"/>
<circle cx="248.2" cy="284.4" r=".9"/>
<circle cx="251.4" cy="257.7" r=".9"/>
<circle cx="255.0" cy="286.5" r=".9"/>
<circle cx="252.1" cy="307.0" r=".9"/>
<circle cx="246.2" cy="224.7" r=".9"/>
<circle cx="250.6" cy="226.5" r=".9"/>
<circle cx="244.7" cy="297.5" r=".9"/>
<circle cx="245.5" cy="230.9" r=".9"/>
<circle cx="255.6" cy="264.1" r=".9"/>
<circle cx="250.7" cy="248.0" r=".9"/>
<circle cx="257.3" cy="277.9" r=".9"/>
<circle cx="249.6" cy="239.0" r=".9"/>
<circle cx="251.9" cy="258.5" r=".9"/>
<circle cx="257.3" cy="212.7" r=".9"/>
<circle cx="254.5" cy="238.5" r=".9"/>
<circle cx="254.9" cy="245.0" r=".9"/>
<circle cx="246.2" cy="257.5" r=".9"/>
<circle cx="243.5" cy="268.8" r=".9"/>
<circle cx="250.8" cy="235.9" r=".9"/>
<circle cx="256.3" cy="192.8" r=".9"/>
<circle cx="248.7" cy="304.7" r=".9"/>
<circle cx="245.7" cy="223.1" r=".9"/>
<circle cx="243.3" cy="252.5" r=".9"/>
<circle cx="251.0" cy="333.0" r=".9"/>
<circle cx="247.4" cy="279.3" r=".9"/>
<circle cx="243.8" cy="278.4" r=".9"/>
<circle cx="251.1" cy="258.3" r=".9"/>
<circle cx="251.9" cy="243.4" r=".9"/>
<circle cx="246.8" cy="263.3" r=".9"/>
<circle cx="252.3" cy="260.4" r=".9"/>
<circle cx="244.8" cy="254.7" r=".9"/>
<circle cx="254.2" cy="241.7" r=".9"/>
<circle cx="243.2" cy="274.5" r=".9"/>
<circle cx="247.8" cy="267.7" r=".9"/>
<circle cx="243.0" cy="303.6" r=".9"/>
<circle cx="244.2" cy="277.3" r=".9"/>
<circle cx="246.1" cy="274.5" r=".9"/>
<circle cx="246.5" cy="292.4" r=".9"/>
<circle cx="250.6" cy="240.8" r=".9"/>
<circle cx="247.2" cy="271.8" r=".9"/>
<circle cx="257.3" cy="314.3" r=".9"/>
<circle cx="247.3" cy="235.8" r=".9"/>
<circle cx="244.8" cy="249.5" r=".9"/>
<circle cx="241.7" cy="220.7" r=".9"/>
<circle cx="254.6" cy="240.0" r=".9"/>
<circle cx="248.0" cy="282.1" r=".9"/>
<circle cx="244.2" cy="240.9" r=".9"/>
<circle cx="241.8" cy="286.1" r=".9"/>
<circle cx="256.0" cy="303.6" r=".9"/>
<circle cx="243.0" cy="277.7" r=".9"/>
<circle cx="249.6" cy="284.5" r=".9"/>
<circle cx="243.9" cy="283.8" r=".9"/>
<circle cx="256.2" cy="271.8" r=".9"/>
<circle cx="243.3" cy="230.4" r=".9"/>
<circle cx="256.9" cy="316.5" r=".9"/>
<circle cx="244.7" cy="261.5" r=".9"/>
<circle cx="257.0" cy="216.4" r=".9"/>
<circle cx="249.2" cy="215.4" r=".9"/>
<circle cx="247.7" cy="202.6" r=".9"/>
<circle cx="255.9" cy="243.0" r=".9"/>
<circle cx="244.1" cy="303.6" r=".9"/>
<circle cx="254.0" cy="301.4" r=".9"/>
<circle cx="255.0" cy="259.5" r=".9"/>
<circle cx="254.7" cy="235.8" r=".9"/>
<circle cx="247.9" cy="256.3" r=".9"/>
<circle cx="249.8" cy="246.2" r=".9"/>
<circle cx="245.5" cy="275.6" r=".9"/>
<circle cx="253.1" cy="254.7" r=".9"/>
<circle cx="250.5" cy="257.9" r=".9"/>
<circle cx="253.6" cy="269.6" r=".9"/>
<circle cx="243.5" cy="211.3" r=".9"/>
<circle cx="251.1" cy="251.6" r=".9"/>
<circle cx="246.4" cy="303.0" r=".9"/>
<circle cx="248.2" cy="277.1" r=".9"/>
<circle cx="252.0" cy="290.9" r=".9"/>
<circle cx="248.7" cy="279.6" r=".9"/>
<circle cx="251.4" cy="270.4" r=".9"/>
<circle cx="249.3" cy="262.2" r=".9"/>
<circle cx="253.9" cy="260.1" r=".9"/>
<circle cx="248.8" cy="216.0" r=".9"/>
<circle cx="243.3" cy="250.6" r=".9"/>
<circle cx="243.6" cy="235.2" r=".9"/>
<circle cx="248.6" cy="276.0" r=".9"/>
<circle cx="249.7" cy="259.3" r=".9"/>
<circle cx="242.9" cy="225.0" r=".9"/>
<circle cx="253.2" cy="254.2" r=".9"/>
<circle cx="242.5" cy="258.6" r=".9"/>
<circle cx="249.6" cy="298.5" r=".9"/>
<circle cx="243.8" cy="315.4" r=".9"/>
<circle cx="255.1" cy="215.6" r=".9"/>
<circle cx="254.5" cy="217.9" r=".9"/>
<circle cx="244.7" cy="265.7" r=".9"/>
<circle cx="256.7" cy="231.3" r=".9"/>
<circle cx="256.1" cy="268.4" r=".9"/>
<circle cx="256.3" cy="238.8" r=".9"/>
<circle cx="242.6" cy="220.9" r=".9"/>
<circle cx="244.1" cy="293.2" r=".9"/>
<circle cx="255.8" cy="225.7" r=".9"/>
<circle cx="243.9" cy="272.9" r=".9"/>
<circle cx="249.5" cy="212.3" r=".9"/>
<circle cx="245.8" cy="247.4" r=".9"/>
<circle cx="249.6" cy="274.1" r=".9"/>
<circle cx="244.5" cy="267.9" r=".9"/>
<circle cx="244.1" cy="257.4" r=".9"/>
<circle cx="255.7" cy="224.6" r=".9"/>
<circle cx="244.3" cy="281.5" r=".9"/>
<circle cx="250.0" cy="261.5" r=".9"/>
<circle cx="251.7" cy="278.5" r=".9"/>
<circle cx="250.4" cy="301.8" r=".9"/>
<circle cx="250.8" cy="219.5" r=".9"/>
<circle cx="257.3" cy="254.6" r=".9"/>
<circle cx="251.6" cy="273.7" r=".9"/>
<circle cx="245.8" cy="305.1" r=".9"/>
<circle cx="257.2" cy="232.9" r=".9"/>
<circle cx="253.7" cy="288.6" r=".9"/>
<circle cx="248.6" cy="277.3" r=".9"/>
<circle cx="242.4" cy="243.5" r=".9"/>
<circle cx="254.6" cy="222.1" r=".9"/>
<circle cx="257.1" cy="265.5" r=".9"/>
<circle cx="250.9" cy="223.5" r=".9"/>
<circle cx="241.6" cy="277.4" r=".9"/>
<circle cx="242.1" cy="285.9" r=".9"/>
<circle cx="248.4" cy="241.1" r=".9"/>
<circle cx="249.7" cy="232.5" r=".9"/>
<circle cx="245.2" cy="252.5" r=".9"/>
<circle cx="251.9" cy="273.9" r=".9"/>
<circle cx="247.2" cy="262.5" r=".9"/>
<circle cx="243.3" cy="264.3" r=".9"/>
<circle cx="250.8" cy="277.4" r=".9"/>
<circle cx="250.9" cy="248.6" r=".9"/>
<circle cx="249.1" cy="253.2" r=".9"/>
<circle cx="243.7" cy="226.0" r=".9"/>
<circle cx="244.0" cy="244.8" r=".9"/>
<circle cx="243.1" cy="272.9" r=".9"/>
<circle cx="254.0" cy="302.2" r=".9"/>
<circle cx="248.0" cy="309.1" r=".9"/>
<circle cx="251.8" cy="265.0" r=".9"/>
<circle cx="250.5" cy="260.2" r=".9"/>
<circle cx="248.6" cy="289.0" r=".9"/>
<circle cx="256.4" cy="231.1" r=".9"/>
<circle cx="255.9" cy="266.8" r=".9"/>
<circle cx="242.3" cy="286.2" r=".9"/>
<circle cx="245.4" cy="293.4" r=".9"/>
<circle cx="242.5" cy="270.4" r=".9"/>
<circle cx="250.3" cy="263.8" r=".9"/>
<circle cx="256.5" cy="269.1" r=".9"/>
<circle cx="251.2" cy="252.6" r=".9"/>
<circle cx="249.6" cy="249.6" r=".9"/>
<circle cx="244.4" cy="297.8" r=".9"/>
<circle cx="246.5" cy="305.5" r=".9"/>
<circle cx="255.7" cy="267.4" r=".9"/>
<circle cx="254.0" cy="256.0" r=".9"/>
<circle cx="254.9" cy="265.3" r=".9"/>
<circle cx="253.4" cy="267.8" r=".9"/>
<circle cx="248.7" cy="310.8" r=".9"/>
<circle cx="245.2" cy="254.3" r=".9"/>
<circle cx="242.2" cy="248.1" r=".9"/>
<circle cx="246.9" cy="251.7" r=".9"/>
<circle cx="255.0" cy="264.7" r=".9"/>
<circle cx="252.8" cy="308.9" r=".9"/>
<circle cx="248.5" cy="268.3" r=".9"/>
<circle cx="254.1" cy="228.2" r=".9"/>
<circle cx="251.7" cy="286.9" r=".9"/>
<circle cx="256.8" cy="267.9" r=".9"/>
<circle cx="241.8" cy="252.4" r=".9"/>
<circle cx="245.7" cy="206.6" r=".9"/>
<circle cx="256.5" cy="260.5" r=".9"/>
<circle cx="253.4" cy="217.3" r=".9"/>
<circle cx="246.8" cy="292.1" r=".9"/>
<circle cx="245.4" cy="212.1" r=".9"/>
<circle cx="252.5" cy="230.6" r=".9"/>
<circle cx="252.1" cy="286.9" r=".9"/>
<circle cx="254.9" cy="232.5" r=".9"/>
<circle cx="252.6" cy="268.9" r=".9"/>
<circle cx="253.0" cy="245.3" r=".9"/>
<circle cx="250.6" cy="288.7" r=".9"/>
<circle cx="251.4" cy="271.6" r=".9"/>
<circle cx="242.8" cy="246.0" r=".9"/>
<circle cx="242.0" cy="251.0" r=".9"/>
<circle cx="243.3" cy="273.1" r=".9"/>
<circle cx="243.8" cy="240.7" r=".9"/>
<circle cx="242.1" cy="276.0" r=".9"/>
<circle cx="251.6" cy="221.9" r=".9"/>
<circle cx="252.6" cy="253.2" r=".9"/>
<circle cx="250.9" cy="265.5" r=".9"/>
<circle cx="247.3" cy="275.2" r=".9"/>
<circle cx="255.7" cy="242.7" r=".9"/>
<circle cx="242.6" cy="313.1" r=".9"/>
<circle cx="256.5" cy="221.6" r=".9"/>
<circle cx="243.3" cy="311.7" r=".9"/>
<circle cx="242.1" cy="260.7" r=".9"/>
<circle cx="255.0" cy="251.1" r=".9"/>
<circle cx="254.6" cy="249.1" r=".9"/>
<circle cx="251.6" cy="302.3" r=".9"/>
<circle cx="243.1" cy="267.7" r=".9"/>
<circle cx="253.6" cy="251.8" r=".9"/>
<circle cx="248.3" cy="257.6" r=".9"/>
<circle cx="241.9" cy="240.4" r=".9"/>
<circle cx="252.9" cy="265.6" r=".9"/>
<circle cx="247.4" cy="241.2" r=".9"/>
<circle cx="249.6" cy="296.5" r=".9"/>
<circle cx="255.1" cy="197.7" r=".9"/>
<circle cx="248.1" cy="269.9" r=".9"/>
<circle cx="248.5" cy="269.5" r=".9"/>
<circle cx="252.7" cy="260.8" r=".9"/>
<circle cx="250.1" cy="290.9" r=".9"/>
<circle cx="243.0" cy="252.7" r=".9"/>
<circle cx="254.6" cy="208.6" r=".9"/>
<circle cx="244.8" cy="263.9" r=".9"/>
<circle cx="253.6" cy="263.3" r=".9"/>
<circle cx="249.4" cy="261.9" r=".9"/>
<circle cx="249.4" cy="265.0" r=".9"/>
<circle cx="249.4" cy="259.3" r=".9"/>
<circle cx="247.1" cy="282.2" r=".9"/>
<circle cx="256.5" cy="253.6" r=".9"/>
<circle cx="246.1" cy="284.1" r=".9"/>
<circle cx="249.5" cy="254.8" r=".9"/>
<circle cx="243.3" cy="221.1" r=".9"/>
<circle cx="254.0" cy="272.3" r=".9"/>
<circle cx="252.6" cy="273.5" r=".9"/>
<circle cx="247.2" cy="255.3" r=".9"/>
<circle cx="247.9" cy="304.0" r=".9"/>
<circle cx="243.0" cy="312.3" r=".9"/>
<circle cx="255.6" cy="227.4" r=".9"/>
<circle cx="245.8" cy="245.3" r=".9"/>
<circle cx="255.8" cy="261.5" r=".9"/>
<circle cx="255.6" cy="292.7" r=".9"/>
<circle cx="245.3" cy="264.8" r=".9"/>
<circle cx="253.5" cy="299.0" r=".9"/>
<circle cx="253.5" cy="256.0" r=".9"/>
<circle cx="246.8" cy="280.7" r=".9"/>
<circle cx="244.1" cy="285.8" r=".9"/>
<circle cx="253.3" cy="241.2" r=".9"/>
<circle cx="244.3" cy="299.9" r=".9"/>
<circle cx="250.8" cy="310.5" r=".9"/>
<circle cx="243.6" cy="246.0" r=".9"/>
<circle cx="245.4" cy="322.7" r=".9"/>
<circle cx="244.6" cy="250.4" r=".9"/>
<circle cx="254.9" cy="278.8" r=".9"/>
<circle cx="244.0" cy="222.1" r=".9"/>
<circle cx="246.8" cy="252.5" r=".9"/>
<circle cx="249.9" cy="246.6" r=".9"/>
<circle cx="244.6" cy="251.0" r=".9"/>
<circle cx="257.0" cy="242.9" r=".9"/>
<circle cx="256.8" cy="266.4" r=".9"/>
<circle cx="243.2" cy="277.8" r=".9"/>
<circle cx="254.2" cy="326.3" r=".9"/>
<circle cx="253.2" cy="209.7" r=".9"/>
<circle cx="251.7" cy="282.0" r=".9"/>
<circle cx="243.3" cy="257.0" r=".9"/>
<circle cx="242.1" cy="256.9" r=".9"/>
<circle cx="247.9" cy="237.1" r=".9"/>
<circle cx="249.5" cy="253.3" r=".9"/>
<circle cx="251.6" cy="307.4" r=".9"/>
<circle cx="251.1" cy="280.1" r=".9"/>
<circle cx="248.0" cy="261.0" r=".9"/>
<circle cx="248.4" cy="268.2" r=".9"/>
<circle cx="250.7" cy="327.3" r=".9"/>
<circle cx="245.2" cy="264.8" r=".9"/>
<circle cx="253.0" cy="294.7" r=".9"/>
<circle cx="252.7" cy="228.4" r=".9"/>
<circle cx="255.1" cy="298.5" r=".9"/>
<circle cx="248.8" cy="282.2" r=".9"/>
<circle cx="246.5" cy="301.8" r=".9"/>
<circle cx="248.2" cy="273.6" r=".9"/>
<circle cx="254.0" cy="274.0" r=".9"/>
<circle cx="245.6" cy="273.9" r=".9"/>
<circle cx="248.3" cy="304.1" r=".9"/>
<circle cx="248.1" cy="303.1" r=".9"/>
<circle cx="252.3" cy="253.5" r=".9"/>
<circle cx="251.9" cy="248.0" r=".9"/>
<circle cx="253.9" cy="272.4" r=".9"/>
<circle cx="257.0" cy="290.1" r=".9"/>
<circle cx="242.2" cy="243.1" r=".9"/>
<circle cx="254.0" cy="281.0" r=".9"/>
<circle cx="256.5" cy="269.2" r=".9"/>
<circle cx="250.7" cy="277.8" r=".9"/>
<circle cx="250.1" cy="266.2" r=".9"/>
<circle cx="251.7" cy="271.6" r=".9"/>
<circle cx="254.7" cy="298.3" r=".9"/>
<circle cx="256.6" cy="293.9" r=".9"/>
<circle cx="244.9" cy="268.6" r=".9"/>
<circle cx="253.7" cy="276.1" r=".9"/>
<circle cx="243.5" cy="290.9" r=".9"/>
<circle cx="242.5" cy="237.8" r=".9"/>
<circle cx="245.9" cy="267.2" r=".9"/>
<circle cx="248.2" cy="268.4" r=".9"/>
<circle cx="248.2" cy="261.8" r=".9"/>
<circle cx="245.8" cy="273.2" r=".9"/>
<circle cx="245.1" cy="290.0" r=".9"/>
<circle cx="249.9" cy="268.2" r=".9"/>
<circle cx="245.1" cy="332.7" r=".9"/>
<circle cx="244.9" cy="255.5" r=".9"/>
<circle cx="243.6" cy="291.8" r=".9"/>
<circle cx="251.6" cy="255.9" r=".9"/>
<circle cx="249.0" cy="316.2" r=".9"/>
<circle cx="256.8" cy="283.6" r=".9"/>
<circle cx="247.2" cy="272.4" r=".9"/>
<circle cx="254.5" cy="298.8" r=".9"/>
<circle cx="249.0" cy="305.3" r=".9"/>
<circle cx="243.6" cy="274.6" r=".9"/>
<circle cx="254.8" cy="229.7" r=".9"/>
<circle cx="245.8" cy="298.9" r=".9"/>
<circle cx="247.5" cy="220.2" r=".9"/>
<circle cx="244.5" cy="265.3" r=".9"/>
<circle cx="241.6" cy="234.3" r=".9"/>
<circle cx="245.5" cy="268.7" r=".9"/>
<circle cx="246.4" cy="287.6" r=".9"/>
<circle cx="251.7" cy="294.8" r=".9"/>
<circle cx="252.0" cy="260.7" r=".9"/>
<circle cx="255.1" cy="307.5" r=".9"/>
<circle cx="242.5" cy="214.3" r=".9"/>
<circle cx="254.0" cy="235.2" r=".9"/>
<circle cx="243.8" cy="319.8" r=".9"/>
<circle cx="241.8" cy="244.7" r=".9"/>
<circle cx="241.8" cy="300.1" r=".9"/>
<circle cx="245.6" cy="224.5" r=".9"/>
<circle cx="243.2" cy="277.1" r=".9"/>
<circle cx="253.9" cy="251.5" r=".9"/>
<circle cx="247.1" cy="248.2" r=".9"/>
<circle cx="254.1" cy="228.8" r=".9"/>
<circle cx="244.3" cy="213.6" r=".9"/>
<circle cx="253.9" cy="234.1" r=".9"/>
<circle cx="252.2" cy="289.5" r=".9"/>
<circle cx="254.9" cy="224.8" r=".9"/>
<circle cx="244.7" cy="295.9" r=".9"/>
<circle cx="253.3" cy="277.0" r=".9"/>
<circle cx="248.5" cy="297.7" r=".9"/>
<circle cx="245.8" cy="237.5" r=".9"/>
<circle cx="245.3" cy="289.2" r=".9"/>
<circle cx="242.5" cy="243.1" r=".9"/>
<circle cx="249.0" cy="238.8" r=".9"/>
<circle cx="249.5" cy="244.0" r=".9"/>
<circle cx="250.1" cy="238.2" r=".9"/>
<circle cx="254.9" cy="262.4" r=".9"/>
<circle cx="249.0" cy="267.1" r=".9"/>
<circle cx="254.9" cy="303.9" r=".9"/>
<circle cx="247.5" cy="280.9" r=".9"/>
<circle cx="242.8" cy="328.4" r=".9"/>
<circle cx="251.7" cy="228.9" r=".9"/>
<circle cx="251.2" cy="269.1" r=".9"/>
<circle cx="252.4" cy="269.8" r=".9"/>
<circle cx="257.1" cy="241.2" r=".9"/>
<circle cx="249.7" cy="275.3" r=".9"/>
<circle cx="242.1" cy="325.7" r=".9"/>
<circle cx="252.9" cy="258.7" r=".9"/>
<circle cx="255.2" cy="283.1" r=".9"/>
<circle cx="247.4" cy="283.1" r=".9"/>
<circle cx="253.8" cy="299.3" r=".9"/>
<circle cx="244.9" cy="259.0" r=".9"/>
<circle cx="250.4" cy="292.3" r=".9"/>
<circle cx="254.7" cy="252.7" r=".9"/>
<circle cx="248.0" cy="279.0" r=".9"/>
<circle cx="249.6" cy="212.6" r=".9"/>
<circle cx="257.0" cy="269.2" r=".9"/>
<circle cx="251.9" cy="230.7" r=".9"/>
<circle cx="246.6" cy="257.9" r=".9"/>
<circle cx="246.3" cy="289.5" r=".9"/>
<circle cx="254.0" cy="299.5" r=".9"/>
<circle cx="242.2" cy="285.7" r=".9"/>
<circle cx="250.2" cy="274.8" r=".9"/>
<circle cx="242.4" cy="323.6" r=".9"/>
<circle cx="244.6" cy="265.6" r=".9"/>
<circle cx="256.2" cy="261.5" r=".9"/>
<circle cx="254.1" cy="297.3" r=".9"/>
<circle cx="256.0" cy="291.2" r=".9"/>
<circle cx="251.5" cy="295.0" r=".9"/>
<circle cx="252.6" cy="290.3" r=".9"/>
<circle cx="245.0" cy="300.4" r=".9"/>
<circle cx="252.1" cy="289.3" r=".9"/>
<circle cx="243.2" cy="311.7" r=".9"/>
<circle cx="244.5" cy="251.8" r=".9"/>
<circle cx="256.0" cy="216.3" r=".9"/>
<circle cx="252.0" cy="253.2" r=".9"/>
<circle cx="254.0" cy="300.9" r=".9"/>
<circle cx="250.5" cy="225.3" r=".9"/>
<circle cx="248.3" cy="265.8" r=".9"/>
<circle cx="246.6" cy="240.2" r=".9"/>
<circle cx="256.4" cy="302.0" r=".9"/>
<circle cx="242.5" cy="247.2" r=".9"/>
<circle cx="243.5" cy="272.0" r=".9"/>
<circle cx="254.4" cy="267.9" r=".9"/>
<circle cx="248.7" cy="321.9" r=".9"/>
<circle cx="241.8" cy="294.0" r=".9"/>
<circle cx="256.4" cy="293.8" r=".9"/>
<circle cx="257.1" cy="239.5" r=".9"/>
<circle cx="243.2" cy="293.9" r=".9"/>
<circle cx="251.8" cy="260.0" r=".9"/>
<circle cx="241.8" cy="260.7" r=".9"/>
<circle cx="241.7" cy="248.6" r=".9"/>
<circle cx="256.9" cy="270.5" r=".9"/>
<circle cx="243.0" cy="278.0" r=".9"/>
<circle cx="241.9" cy="254.3" r=".9"/>
<circle cx="253.0" cy="275.6" r=".9"/>
<circle cx="244.6" cy="262.3" r=".9"/>
<circle cx="242.4" cy="217.9" r=".9"/>
<circle cx="255.1" cy="257.8" r=".9"/>
<circle cx="253.1" cy="309.6" r=".9"/>
<circle cx="252.8" cy="229.7" r=".9"/>
<circle cx="248.9" cy="244.1" r=".9"/>
<circle cx="256.8" cy="244.5" r=".9"/>
<circle cx="252.9" cy="273.7" r=".9"/>
<circle cx="251.9" cy="259.7" r=".9"/>
<circle cx="254.5" cy="264.2" r=".9"/>
<circle cx="253.1" cy="242.8" r=".9"/>
<circle cx="244.2" cy="252.7" r=".9"/>
<circle cx="242.5" cy="243.3" r=".9"/>
<circle cx="247.4" cy="290.0" r=".9"/>
<circle cx="252.3" cy="292.1" r=".9"/>
<circle cx="243.9" cy="278.6" r=".9"/>
<circle cx="251.8" cy="256.6" r=".9"/>
<circle cx="251.5" cy="290.7" r=".9"/>
<circle cx="254.0" cy="289.3" r=".9"/>
<circle cx="256.5" cy="250.6" r=".9"/>
<circle cx="246.2" cy="256.6" r=".9"/>
<circle cx="242.6" cy="300.9" r=".9"/>
<circle cx="254.7" cy="220.4" r=".9"/>
<circle cx="246.8" cy="271.9" r=".9"/>
<circle cx="254.7" cy="326.9" r=".9"/>
<circle cx="251.1" cy="313.5" r=".9"/>
<circle cx="255.6" cy="275.5" r=".9"/>
<circle cx="247.6" cy="236.2" r=".9"/>
<circle cx="255.8" cy="280.1" r=".9"/>
<circle cx="254.4" cy="300.4" r=".9"/>
<circle cx="245.8" cy="264.9" r=".9"/>
<circle cx="248.3" cy="263.0" r=".9"/>
<circle cx="255.6" cy="309.9" r=".9"/>
<circle cx="242.3" cy="292.0" r=".9"/>
<circle cx="255.3" cy="238.3" r=".9"/>
<circle cx="250.6" cy="310.1" r=".9"/>
<circle cx="254.4" cy="273.0" r=".9"/>
<circle cx="252.4" cy="209.1" r=".9"/>
<circle cx="242.9" cy="241.8" r=".9"/>
<circle cx="250.3" cy="278.3" r=".9"/>
<circle cx="253.5" cy="258.9" r=".9"/>
<circle cx="256.3" cy="283.0" r=".9"/>
<circle cx="252.3" cy="260.7" r=".9"/>
<circle cx="249.0" cy="225.5" r=".9"/>
<circle cx="253.5" cy="258.7" r=".9"/>
<circle cx="254.1" cy="243.4" r=".9"/>
<circle cx="254.3" cy="276.5" r=".9"/>
<circle cx="253.8" cy="261.5" r=".9"/>
<circle cx="255.8" cy="260.5" r=".9"/>
<circle cx="255.6" cy="226.9" r=".9"/>
<circle cx="250.9" cy="297.0" r=".9"/>
<circle cx="244.6" cy="269.1" r=".9"/>
<circle cx="252.7" cy="258.2" r=".9"/>
<circle cx="247.3" cy="247.6" r=".9"/>
<circle cx="249.8" cy="291.4" r=".9"/>
<circle cx="244.0" cy="276.1" r=".9"/>
<circle cx="247.5" cy="237.4" r=".9"/>
<circle cx="254.0" cy="232.6" r=".9"/>
<circle cx="244.1" cy="239.4" r=".9"/>
<circle cx="249.8" cy="286.3" r=".9"/>
<circle cx="241.9" cy="279.8" r=".9"/>
<circle cx="255.3" cy="246.2" r=".9"/>
<circle cx="245.7" cy="301.7" r=".9"/>
<circle cx="253.9" cy="261.4" r=".9"/>
<circle cx="253.7" cy="326.8" r=".9"/>
<circle cx="254.5" cy="233.4" r=".9"/>
<circle cx="242.2" cy="243.2" r=".9"/>
<circle cx="244.8" cy="269.6" r=".9"/>
<circle cx="242.4" cy="259.5" r=".9"/>
<circle cx="250.4" cy="253.7" r=".9"/>
<circle cx="256.6" cy="242.7" r=".9"/>
<circle cx="256.0" cy="287.7" r=".9"/>
<circle cx="247.9" cy="228.9" r=".9"/>
<circle cx="243.5" cy="249.4" r=".9"/>
<circle cx="250.5" cy="243.1" r=".9"/>
<circle cx="251.7" cy="270.2" r=".9"/>
<circle cx="247.8" cy="223.4" r=".9"/>
<circle cx="248.7" cy="276.2" r=".9"/>
<circle cx="257.3" cy="224.4" r=".9"/>
<circle cx="245.1" cy="201.6" r=".9"/>
<circle cx="247.2" cy="243.1" r=".9"/>
<circle cx="255.9" cy="259.3" r=".9"/>
<circle cx="242.3" cy="219.3" r=".9"/>
<circle cx="254.0" cy="295.5" r=".9"/>
<circle cx="257.2" cy="275.0" r=".9"/>
<circle cx="242.5" cy="304.8" r=".9"/>
<circle cx="256.4" cy="235.0" r=".9"/>
<circle cx="252.3" cy="226.5" r=".9"/>
<circle cx="253.6" cy="276.2" r=".9"/>
<circle cx="243.3" cy="227.9" r=".9"/>
<circle cx="243.6" cy="274.5" r=".9"/>
<circle cx="249.2" cy="244.8" r=".9"/>
<circle cx="243.9" cy="254.2" r=".9"/>
<circle cx="252.3" cy="246.1" r=".9"/>
<circle cx="244.7" cy="219.0" r=".9"/>
<circle cx="242.2" cy="261.0" r=".9"/>
<circle cx="256.4" cy="246.3" r=".9"/>
<circle cx="255.3" cy="273.5" r=".9"/>
<circle cx="248.7" cy="252.5" r=".9"/>
<circle cx="243.1" cy="274.8" r=".9"/>
<circle cx="251.5" cy="214.8" r=".9"/>
<circle cx="248.7" cy="288.5" r=".9"/>
<circle cx="249.1" cy="293.2" r=".9"/>
<circle cx="251.5" cy="219.4" r=".9"/>
<circle cx="242.5" cy="251.9" r=".9"/>
<circle cx="252.9" cy="248.7" r=".9"/>
<circle cx="255.4" cy="279.8" r=".9"/>
<circle cx="245.8" cy="269.9" r=".9"/>
<circle cx="245.9" cy="278.8" r=".9"/>
<circle cx="254.9" cy="255.8" r=".9"/>
<circle cx="249.4" cy="273.4" r=".9"/>
<circle cx="246.6" cy="249.6" r=".9"/>
<circle cx="257.1" cy="253.0" r=".9"/>
<circle cx="242.5" cy="272.7" r=".9"/>
<circle cx="244.9" cy="230.8" r=".9"/>
<circle cx="249.1" cy="290.8" r=".9"/>
<circle cx="244.8" cy="269.6" r=".9"/>
<circle cx="247.4" cy="243.0" r=".9"/>
<circle cx="256.2" cy="270.3" r=".9"/>
<circle cx="255.8" cy="245.1" r=".9"/>
<circle cx="242.5" cy="250.9" r=".9"/>
<circle cx="257.1" cy="268.1" r=".9"/>
<circle cx="241.9" cy="288.3" r=".9"/>
<circle cx="243.8" cy="255.4" r=".9"/>
<circle cx="241.6" cy="289.2" r=".9"/>
<circle cx="244.5" cy="247.2" r=".9"/>
<circle cx="248.5" cy="295.2" r=".9"/>
<circle cx="250.6" cy="247.4" r=".9"/>
<circle cx="243.8" cy="275.2" r=".9"/>
<circle cx="252.8" cy="243.6" r=".9"/>
<circle cx="244.7" cy="219.9" r=".9"/>
<circle cx="251.2" cy="253.8" r=".9"/>
<circle cx="249.4" cy="258.7" r=".9"/>
<circle cx="251.3" cy="267.5" r=".9"/>
<circle cx="252.8" cy="245.3" r=".9"/>
<circle cx="244.8" cy="250.2" r=".9"/>
<circle cx="242.6" cy="299.8" r=".9"/>
<circle cx="253.0" cy="267.8" r=".9"/>
<circle cx="242.5" cy="293.9" r=".9"/>
<circle cx="254.9" cy="254.9" r=".9"/>
<circle cx="255.3" cy="288.7" r=".9"/>
<circle cx="256.0" cy="269.7" r=".9"/>
<circle cx="249.1" cy="264.4" r=".9"/>
<circle cx="244.5" cy="248.9" r=".9"/>
<circle cx="254.7" cy="280.9" r=".9"/>
<circle cx="247.5" cy="276.1" r=".9"/>
<circle cx="251.0" cy="251.9" r=".9"/>
<circle cx="248.6" cy="229.8" r=".9"/>
<circle cx="249.7" cy="263.6" r=".9"/>
<circle cx="254.5" cy="231.5" r=".9"/>
<circle cx="255.3" cy="233.3" r=".9"/>
<circle cx="247.6" cy="284.1" r=".9"/>
<circle cx="253.5" cy="223.7" r=".9"/>
<circle cx="256.7" cy="210.4" r=".9"/>
<circle cx="249.4" cy="242.7" r=".9"/>
<circle cx="250.1" cy="299.8" r=".9"/>
<circle cx="241.9" cy="267.5" r=".9"/>
<circle cx="244.5" cy="244.6" r=".9"/>
<circle cx="243.2" cy="268.8" r=".9"/>
<circle cx="242.1" cy="264.7" r=".9"/>
<circle cx="243.1" cy="211.6" r=".9"/>
<circle cx="241.9" cy="270.6" r=".9"/>
<circle cx="251.1" cy="282.6" r=".9"/>
<circle cx="252.7" cy="295.6" r=".9"/>
<circle cx="243.2" cy="280.8" r=".9"/>
<circle cx="242.3" cy="233.4" r=".9"/>
<circle cx="243.5" cy="298.0" r=".9"/>
<circle cx="246.0" cy="298.5" r=".9"/>
<circle cx="243.5" cy="263.2" r=".9"/>
<circle cx="251.0" cy="277.5" r=".9"/>
<circle cx="255.2" cy="255.9" r=".9"/>
<circle cx="253.4" cy="242.0" r=".9"/>
<circle cx="244.2" cy="234.6" r=".9"/>
<circle cx="247.7" cy="233.5" r=".9"/>
<circle cx="248.2" cy="324.8" r=".9"/>
<circle cx="247.9" cy="245.8" r=".9"/>
<circle cx="256.5" cy="294.3" r=".9"/>
<circle cx="245.4" cy="260.2" r=".9"/>
<circle cx="246.9" cy="290.4" r=".9"/>
<circle cx="254.3" cy="232.7" r=".9"/>
<circle cx="255.0" cy="219.5" r=".9"/>
<circle cx="242.4" cy="292.1" r=".9"/>
<circle cx="256.4" cy="272.5" r=".9"/>
<circle cx="251.6" cy="264.5" r=".9"/>
<circle cx="247.4" cy="234.5" r=".9"/>
<circle cx="248.4" cy="275.3" r=".9"/>
<circle cx="249.6" cy="266.7" r=".9"/>
<circle cx="256.9" cy="249.0" r=".9"/>
<circle cx="253.9" cy="262.5" r=".9"/>
<circle cx="254.4" cy="227.0" r=".9"/>
<circle cx="255.6" cy="280.3" r=".9"/>
<circle cx="251.7" cy="258.9" r=".9"/>
<circle cx="245.8" cy="269.6" r=".9"/>
<circle cx="250.2" cy="274.6" r=".9"/>
<circle cx="256.2" cy="285.3" r=".9"/>
<circle cx="249.8" cy="280.4" r=".9"/>
<circle cx="248.5" cy="279.7" r=".9"/>
<circle cx="246.4" cy="242.0" r=".9"/>
<circle cx="251.8" cy="271.8" r=".9"/>
<circle cx="256.7" cy="236.5" r=".9"/>
<circle cx="249.7" cy="238.1" r=".9"/>
<circle cx="250.0" cy="268.3" r=".9"/>
<circle cx="243.9" cy="232.6" r=".9"/>
<circle cx="246.2" cy="253.7" r=".9"/>
<circle cx="248.0" cy="253.9" r=".9"/>
<circle cx="243.0" cy="269.7" r=".9"/>
<circle cx="250.2" cy="243.7" r=".9"/>
<circle cx="250.6" cy="243.5" r=".9"/>
<circle cx="251.9" cy="298.0" r=".9"/>
<circle cx="248.9" cy="250.9" r=".9"/>
<circle cx="250.3" cy="221.4" r=".9"/>
<circle cx="246.5" cy="289.2" r=".9"/>
<circle cx="245.4" cy="285.7" r=".9"/>
<circle cx="247.7" cy="258.5" r=".9"/>
<circle cx="250.9" cy="230.7" r=".9"/>
<circle cx="255.2" cy="237.8" r=".9"/>
<circle cx="245.4" cy="262.6" r=".9"/>
<circle cx="246.1" cy="295.9" r=".9"/>
<circle cx="257.2" cy="276.2" r=".9"/>
<circle cx="244.1" cy="278.5" r=".9"/>
<circle cx="242.7" cy="217.1" r=".9"/>
<circle cx="242.6" cy="243.2" r=".9"/>
<circle cx="247.7" cy="287.0" r=".9"/>
<circle cx="243.3" cy="308.2" r=".9"/>
<circle cx="245.2" cy="247.3" r=".9"/>
<circle cx="244.0" cy="219.0" r=".9"/>
<circle cx="246.9" cy="276.5" r=".9"/>
<circle cx="251.3" cy="290.5" r=".9"/>
<circle cx="255.0" cy="230.1" r=".9"/>
<circle cx="253.3" cy="249.6" r=".9"/>
<circle cx="253.3" cy="295.9" r=".9"/>
<circle cx="254.0" cy="262.6" r=".9"/>
<circle cx="252.8" cy="297.2" r=".9"/>
<circle cx="255.4" cy="251.7" r=".9"/>
<circle cx="241.7" cy="272.3" r=".9"/>
<circle cx="249.5" cy="260.8" r=".9"/>
<circle cx="256.8" cy="302.6" r=".9"/>
<circle cx="254.0" cy="291.5" r=".9"/>
<circle cx="255.4" cy="277.7" r=".9"/>
<circle cx="248.7" cy="286.5" r=".9"/>
<circle cx="248.8" cy="282.1" r=".9"/>
<circle cx="247.8" cy="268.6" r=".9"/>
<circle cx="250.4" cy="288.2" r=".9"/>
<circle cx="254.0" cy="283.6" r=".9"/>
<circle cx="255.0" cy="247.8" r=".9"/>
<circle cx="244.5" cy="295.8" r=".9"/>
<circle cx="246.4" cy="264.5" r=".9"/>
<circle cx="250.8" cy="241.5" r=".9"/>
<circle cx="243.0" cy="234.8" r=".9"/>
<circle cx="254.9" cy="242.3" r=".9"/>
<circle cx="254.8" cy="276.8" r=".9"/>
<circle cx="248.3" cy="245.8" r=".9"/>
<circle cx="256.0" cy="269.6" r=".9"/>
<circle cx="250.5" cy="255.6" r=".9"/>
<circle cx="249.5" cy="264.0" r=".9"/>
<circle cx="250.1" cy="221.1" r=".9"/>
<circle cx="257.4" cy="288.4" r=".9"/>
<circle cx="252.4" cy="299.1" r=".9"/>
<circle cx="247.8" cy="268.4" r=".9"/>
<circle cx="247.1" cy="288.8" r=".9"/>
<circle cx="256.6" cy="234.5" r=".9"/>
<circle cx="243.2" cy="280.2" r=".9"/>
<circle cx="247.5" cy="296.0" r=".9"/>
<circle cx="250.7" cy="294.6" r=".9"/>
<circle cx="255.5" cy="243.1" r=".9"/>
<circle cx="248.6" cy="232.2" r=".9"/>
<circle cx="251.5" cy="271.9" r=".9"/>
<circle cx="250.0" cy="238.2" r=".9"/>
<circle cx="254.5" cy="265.2" r=".9"/>
<circle cx="257.1" cy="252.6" r=".9"/>
<circle cx="254.7" cy="242.5" r=".9"/>
<circle cx="255.7" cy="278.5" r=".9"/>
<circle cx="252.5" cy="265.7" r=".9"/>
<circle cx="255.6" cy="227.0" r=".9"/>
<circle cx="246.2" cy="279.3" r=".9"/>
<circle cx="249.7" cy="256.6" r=".9"/>
<circle cx="244.5" cy="283.2" r=".9"/>
<circle cx="251.6" cy="265.2" r=".9"/>
<circle cx="257.3" cy="286.0" r=".9"/>
<circle cx="251.7" cy="280.8" r=".9"/>
<circle cx="254.0" cy="236.0" r=".9"/>
<circle cx="246.4" cy="256.8" r=".9"/>
<circle cx="246.4" cy="265.5" r=".9"/>
<circle cx="254.9" cy="267.0" r=".9"/>
<circle cx="244.7" cy="301.2" r=".9"/>
<circle cx="249.5" cy="286.6" r=".9"/>
<circle cx="251.8" cy="286.0" r=".9"/>
<circle cx="250.0" cy="272.0" r=".9"/>
<circle cx="248.1" cy="227.0" r=".9"/>
<circle cx="243.5" cy="265.3" r=".9"/>
<circle cx="243.3" cy="237.7" r=".9"/>
<circle cx="243.2" cy="224.1" r=".9"/>
<circle cx="254.6" cy="247.8" r=".9"/>
<circle cx="251.3" cy="233.9" r=".9"/>
<circle cx="241.8" cy="261.0" r=".9"/>
<circle cx="253.8" cy="274.2" r=".9"/>
<circle cx="247.2" cy="284.7" r=".9"/>
<circle cx="244.3" cy="223.7" r=".9"/>
<circle cx="255.9" cy="266.0" r=".9"/>
<circle cx="250.8" cy="251.5" r=".9"/>
<circle cx="247.7" cy="282.9" r=".9"/>
<circle cx="242.5" cy="239.0" r=".9"/>
<circle cx="256.8" cy="235.2" r=".9"/>
<circle cx="248.5" cy="288.7" r=".9"/>
<circle cx="242.3" cy="280.5" r=".9"/>
<circle cx="256.3" cy="279.5" r=".9"/>
<circle cx="255.8" cy="249.3" r=".9"/>
<circle cx="254.5" cy="284.4" r=".9"/>
<circle cx="256.8" cy="277.5" r=".9"/>
<circle cx="249.4" cy="227.7" r=".9"/>
<circle cx="247.8" cy="244.2" r=".9"/>
<circle cx="253.0" cy="271.3" r=".9"/>
<circle cx="255.4" cy="260.2" r=".9"/>
<circle cx="249.3" cy="240.3" r=".9"/>
<circle cx="244.3" cy="258.9" r=".9"/>
<circle cx="247.3" cy="285.3" r=".9"/>
<circle cx="246.2" cy="234.8" r=".9"/>
<circle cx="250.5" cy="193.9" r=".9"/>
<circle cx="247.7" cy="237.9" r=".9"/>
<circle cx="248.0" cy="241.1" r=".9"/>
<circle cx="254.6" cy="251.1" r=".9"/>
<circle cx="247.1" cy="258.7" r=".9"/>
<circle cx="246.1" cy="264.0" r=".9"/>
<circle cx="245.3" cy="245.9" r=".9"/>
<circle cx="247.0" cy="223.1" r=".9"/>
<circle cx="244.1" cy="255.3" r=".9"/>
<circle cx="245.9" cy="268.1" r=".9"/>
<circle cx="254.8" cy="276.8" r=".9"/>
<circle cx="254.8" cy="243.0" r=".9"/>
<circle cx="254.3" cy="242.2" r=".9"/>
<circle cx="253.0" cy="250.1" r=".9"/>
<circle cx="247.6" cy="242.0" r=".9"/>
<circle cx="256.6" cy="245.6" r=".9"/>
<circle cx="249.6" cy="269.7" r=".9"/>
<circle cx="243.7" cy="260.1" r=".9"/>
<circle cx="252.8" cy="233.3" r=".9"/>
<circle cx="250.9" cy="268.8" r=".9"/>
<circle cx="247.4" cy="203.1" r=".9"/>
<circle cx="245.0" cy="263.7" r=".9"/>
<circle cx="255.4" cy="225.2" r=".9"/>
<circle cx="250.2" cy="239.9" r=".9"/>
<circle cx="245.9" cy="240.5" r=".9"/>
<circle cx="252.0" cy="260.7" r=".9"/>
<circle cx="250.6" cy="292.7" r=".9"/>
<circle cx="243.0" cy="275.3" r=".9"/>
<circle cx="244.4" cy="238.1" r=".9"/>
<circle cx="252.1" cy="249.6" r=".9"/>
<circle cx="243.3" cy="285.0" r=".9"/>
<circle cx="249.5" cy="289.8" r=".9"/>
<circle cx="246.3" cy="274.9" r=".9"/>
<circle cx="245.2" cy="241.9" r=".9"/>
<circle cx="243.6" cy="254.6" r=".9"/>
<circle cx="248.0" cy="269.5" r=".9"/>
<circle cx="256.0" cy="287.5" r=".9"/>
<circle cx="255.2" cy="255.3" r=".9"/>
<circle cx="243.7" cy="323.4" r=".9"/>
<circle cx="252.3" cy="265.8" r=".9"/>
<circle cx="252.1" cy="257.6" r=".9"/>
<circle cx="252.0" cy="282.2" r=".9"/>
<circle cx="252.6" cy="240.7" r=".9"/>
<circle cx="247.2" cy="264.0" r=".9"/>
<circle cx="251.5" cy="208.9" r=".9"/>
<circle cx="256.0" cy="258.7" r=".9"/>
<circle cx="253.2" cy="251.7" r=".9"/>
<circle cx="242.2" cy="266.5" r=".9"/>
<circle cx="244.2" cy="272.6" r=".9"/>
<circle cx="247.6" cy="256.8" r=".9"/>
<circle cx="242.2" cy="241.4" r=".9"/>
<circle cx="244.4" cy="279.9" r=".9"/>
<circle cx="254.9" cy="226.5" r=".9"/>
<circle cx="245.6" cy="305.9" r=".9"/>
<circle cx="248.5" cy="284.1" r=".9"/>
<circle cx="241.6" cy="275.3" r=".9"/>
<circle cx="254.8" cy="289.0" r=".9"/>
<circle cx="242.3" cy="260.7" r=".9"/>
<circle cx="255.1" cy="287.9" r=".9"/>
<circle cx="245.5" cy="271.6" r=".9"/>
<circle cx="243.4" cy="270.2" r=".9"/>
<circle cx="256.0" cy="259.5" r=".9"/>
<circle cx="253.4" cy="283.7" r=".9"/>
<circle cx="247.8" cy="226.6" r=".9"/>
<circle cx="253.4" cy="241.8" r=".9"/>
<circle cx="243.0" cy="253.5" r=".9"/>
<circle cx="256.6" cy="285.2" r=".9"/>
<circle cx="252.5" cy="323.5" r=".9"/>
<circle cx="253.3" cy="234.1" r=".9"/>
<circle cx="248.8" cy="245.1" r=".9"/>
<circle cx="242.5" cy="300.0" r=".9"/>
<circle cx="249.7" cy="274.3" r=".9"/>
<circle cx="256.3" cy="293.4" r=".9"/>
<circle cx="242.3" cy="230.7" r=".9"/>
<circle cx="252.7" cy="229.6" r=".9"/>
<circle cx="250.2" cy="256.9" r=".9"/>
<circle cx="256.9" cy="285.6" r=".9"/>
<circle cx="245.5" cy="288.0" r=".9"/>
<circle cx="242.5" cy="292.0" r=".9"/>
<circle cx="244.8" cy="283.2" r=".9"/>
<circle cx="246.5" cy="241.5" r=".9"/>
<circle cx="252.2" cy="235.1" r=".9"/>
<circle cx="245.4" cy="230.5" r=".9"/>
<circle cx="248.6" cy="262.8" r=".9"/>
<circle cx="256.4" cy="230.0" r=".9"/>
<circle cx="255.6" cy="279.0" r=".9"/>
<circle cx="243.8" cy="245.1" r=".9"/>
<circle cx="254.5" cy="288.5" r=".9"/>
<circle cx="250.3" cy="274.6" r=".9"/>
<circle cx="252.1" cy="263.4" r=".9"/>
<circle cx="251.1" cy="282.1" r=".9"/>
<circle cx="254.7" cy="312.2" r=".9"/>
<circle cx="243.4" cy="252.8" r=".9"/>
<circle cx="244.9" cy="271.2" r=".9"/>
<circle cx="242.6" cy="238.2" r=".9"/>
<circle cx="252.7" cy="268.3" r=".9"/>
<circle cx="248.7" cy="245.9" r=".9"/>
<circle cx="249.0" cy="245.3" r=".9"/>
<circle cx="247.3" cy="248.0" r=".9"/>
<circle cx="241.8" cy="259.1" r=".9"/>
<circle cx="257.3" cy="254.9" r=".9"/>
<circle cx="252.9" cy="264.6" r=".9"/>
<circle cx="257.1" cy="276.6" r=".9"/>
<circle cx="249.3" cy="277.3" r=".9"/>
<circle cx="248.5" cy="270.0" r=".9"/>
<circle cx="241.7" cy="251.3" r=".9"/>
<circle cx="256.1" cy="231.1" r=".9"/>
<circle cx="256.4" cy="289.5" r=".9"/>
<circle cx="251.9" cy="296.5" r=".9"/>
<circle cx="243.8" cy="264.8" r=".9"/>
<circle cx="242.0" cy="243.0" r=".9"/>
<circle cx="246.3" cy="256.2" r=".9"/>
<circle cx="244.5" cy="319.0" r=".9"/>
<circle cx="256.2" cy="300.6" r=".9"/>
<circle cx="244.3" cy="307.0" r=".9"/>
<circle cx="253.3" cy="252.9" r=".9"/>
<circle cx="246.8" cy="317.5" r=".9"/>
<circle cx="246.7" cy="243.1" r=".9"/>
<circle cx="247.4" cy="215.3" r=".9"/>
<circle cx="254.7" cy="290.8" r=".9"/>
<circle cx="245.4" cy="273.3" r=".9"/>
</g>
<line x1="249.40" y1="194.30" x2="249.40" y2="336.00" stroke="#c4c4c4" stroke-width="0.5" />
<rect x="240.3" y="248.2" width="18.2" height="35.9" fill="none" stroke="#bdbdbd" stroke-width="0.55"/>
<line x1="240.30" y1="267.00" x2="258.50" y2="267.00" stroke="#bdbdbd" stroke-width="0.55" />
<line x1="285.80" y1="237.60" x2="285.80" y2="240.40" stroke="#111" stroke-width="0.6" />
<line x1="285.80" y1="258.90" x2="285.80" y2="282.70" stroke="#111" stroke-width="0.6" />
<rect x="276.6" y="240.4" width="18.4" height="18.5" fill="none" stroke="#111" stroke-width="0.65"/>
<line x1="276.60" y1="246.00" x2="295.00" y2="246.00" stroke="#111" stroke-width="1.2" />
<circle cx="280.60" cy="237.70" r="0.95" fill="#4a4a4a" />
<circle cx="285.60" cy="239.00" r="0.95" fill="#4a4a4a" />
<circle cx="282.00" cy="243.50" r="0.95" fill="#4a4a4a" />
<circle cx="293.00" cy="245.80" r="0.95" fill="#4a4a4a" />
<circle cx="281.00" cy="249.80" r="0.95" fill="#4a4a4a" />
<circle cx="287.00" cy="252.50" r="0.95" fill="#4a4a4a" />
<circle cx="290.00" cy="257.00" r="0.95" fill="#4a4a4a" />
<circle cx="280.60" cy="258.50" r="0.95" fill="#4a4a4a" />
<circle cx="283.40" cy="263.40" r="0.95" fill="#4a4a4a" />
<circle cx="278.40" cy="275.00" r="0.95" fill="#4a4a4a" />
<circle cx="281.70" cy="282.70" r="0.95" fill="#4a4a4a" />
<circle cx="288.60" cy="293.20" r="0.95" fill="#4a4a4a" />
<circle cx="283.90" cy="208.10" r="0.95" fill="#4a4a4a" />
<circle cx="287.20" cy="205.90" r="0.95" fill="#4a4a4a" />
<circle cx="291.10" cy="210.30" r="0.95" fill="#4a4a4a" />
<ellipse cx="287.5" cy="208.1" rx="6.9" ry="5.2" fill="none" stroke="#e8262a" stroke-width="0.95"/>
<line x1="227.70" y1="178.30" x2="227.70" y2="344.40" stroke="#2a2a2a" stroke-width="0.85" />
<line x1="227.30" y1="344.00" x2="307.20" y2="344.00" stroke="#2a2a2a" stroke-width="0.85" />
<line x1="249.40" y1="344.00" x2="249.40" y2="345.30" stroke="#333" stroke-width="0.4" />
<line x1="285.60" y1="344.00" x2="285.60" y2="345.30" stroke="#333" stroke-width="0.4" />
<line x1="226.60" y1="179.10" x2="227.80" y2="179.10" stroke="#222" stroke-width="0.4" />
<text x="225.60" y="180.70" font-size="4.7" text-anchor="end" fill="#4d4d4d" >0.40</text>
<line x1="226.60" y1="219.05" x2="227.80" y2="219.05" stroke="#222" stroke-width="0.4" />
<text x="225.60" y="220.65" font-size="4.7" text-anchor="end" fill="#4d4d4d" >0.35</text>
<line x1="226.60" y1="259.00" x2="227.80" y2="259.00" stroke="#222" stroke-width="0.4" />
<text x="225.60" y="260.60" font-size="4.7" text-anchor="end" fill="#4d4d4d" >0.30</text>
<line x1="226.60" y1="298.95" x2="227.80" y2="298.95" stroke="#222" stroke-width="0.4" />
<text x="225.60" y="300.55" font-size="4.7" text-anchor="end" fill="#4d4d4d" >0.25</text>
<line x1="226.60" y1="338.90" x2="227.80" y2="338.90" stroke="#222" stroke-width="0.4" />
<text x="225.60" y="340.50" font-size="4.7" text-anchor="end" fill="#4d4d4d" >0.20</text>
<text x="213.60" y="264.50" font-size="7.8" text-anchor="middle" fill="#111" textLength="91.50" lengthAdjust="spacingAndGlyphs" transform="rotate(-90 213.60 264.50)" >Oxidative phosphorylation</text>
<text x="249.40" y="349.30" font-size="4.4" text-anchor="middle" fill="#4d4d4d" >WT</text>
<text x="285.00" y="349.30" font-size="4.4" text-anchor="middle" fill="#4d4d4d" >Mut</text>
<text x="266.60" y="356.20" font-size="5.9" text-anchor="middle" fill="#222" >FBXW7</text>
<text x="294.40" y="310.40" font-size="7.8" fill="#111" textLength="25.40" lengthAdjust="spacingAndGlyphs" >FBXW7</text>
<g stroke="#bdbdbd" stroke-width="0.45" fill="none"><rect x="296.6" y="317.4" width="5.6" height="4.2"/><line x1="296.6" y1="319.5" x2="302.2" y2="319.5"/><line x1="299.4" y1="316.6" x2="299.4" y2="322.4"/></g>
<g stroke="#222" stroke-width="0.5" fill="none"><rect x="296.6" y="325.6" width="5.6" height="4.2"/><line x1="296.6" y1="327.7" x2="302.2" y2="327.7"/><line x1="299.4" y1="324.8" x2="299.4" y2="330.6"/></g>
<text x="306.00" y="321.60" font-size="6.0" fill="#111" >WT</text>
<text x="306.00" y="329.90" font-size="6.0" fill="#111" >Mut</text>
</g>
<g id="panelE">
<text x="351.90" y="180.80" font-size="10.3" font-weight="bold" stroke="#000" stroke-width="0.4">E</text>
<line x1="381.50" y1="190.60" x2="381.50" y2="296.90" stroke="#111" stroke-width="0.7" />
<line x1="381.20" y1="296.60" x2="505.00" y2="296.60" stroke="#111" stroke-width="0.7" />
<line x1="380.30" y1="195.80" x2="381.50" y2="195.80" stroke="#222" stroke-width="0.4" />
<text x="379.40" y="197.40" font-size="4.5" text-anchor="end" font-weight="bold" fill="#222" >1.00</text>
<line x1="380.30" y1="219.90" x2="381.50" y2="219.90" stroke="#222" stroke-width="0.4" />
<text x="379.40" y="221.50" font-size="4.5" text-anchor="end" font-weight="bold" fill="#222" >0.75</text>
<line x1="380.30" y1="244.00" x2="381.50" y2="244.00" stroke="#222" stroke-width="0.4" />
<text x="379.40" y="245.60" font-size="4.5" text-anchor="end" font-weight="bold" fill="#222" >0.50</text>
<line x1="380.30" y1="268.10" x2="381.50" y2="268.10" stroke="#222" stroke-width="0.4" />
<text x="379.40" y="269.70" font-size="4.5" text-anchor="end" font-weight="bold" fill="#222" >0.25</text>
<line x1="380.30" y1="292.20" x2="381.50" y2="292.20" stroke="#222" stroke-width="0.4" />
<text x="379.40" y="293.80" font-size="4.5" text-anchor="end" font-weight="bold" fill="#222" >0.00</text>
<line x1="386.70" y1="296.60" x2="386.70" y2="297.80" stroke="#222" stroke-width="0.4" />
<text x="386.70" y="302.50" font-size="4.7" text-anchor="middle" font-weight="bold" fill="#222" >0</text>
<line x1="409.20" y1="296.60" x2="409.20" y2="297.80" stroke="#222" stroke-width="0.4" />
<text x="409.20" y="302.50" font-size="4.7" text-anchor="middle" font-weight="bold" fill="#222" >5</text>
<line x1="431.70" y1="296.60" x2="431.70" y2="297.80" stroke="#222" stroke-width="0.4" />
<text x="431.70" y="302.50" font-size="4.7" text-anchor="middle" font-weight="bold" fill="#222" >10</text>
<line x1="454.20" y1="296.60" x2="454.20" y2="297.80" stroke="#222" stroke-width="0.4" />
<text x="454.20" y="302.50" font-size="4.7" text-anchor="middle" font-weight="bold" fill="#222" >15</text>
<line x1="476.70" y1="296.60" x2="476.70" y2="297.80" stroke="#222" stroke-width="0.4" />
<text x="476.70" y="302.50" font-size="4.7" text-anchor="middle" font-weight="bold" fill="#222" >20</text>
<line x1="499.20" y1="296.60" x2="499.20" y2="297.80" stroke="#222" stroke-width="0.4" />
<text x="499.20" y="302.50" font-size="4.7" text-anchor="middle" font-weight="bold" fill="#222" >25</text>
<text x="443.20" y="311.20" font-size="7.2" text-anchor="middle" fill="#111" >Time</text>
<text x="360.20" y="243.00" font-size="6.2" text-anchor="middle" fill="#111" textLength="55.50" lengthAdjust="spacingAndGlyphs" transform="rotate(-90 360.20 243.00)" >Survival probability</text>
<path d="M386.70 195.80H388.50V197.73H390.30V200.62H391.20V203.51H392.10V206.40H393.45V210.26H394.80V213.15H395.70V216.04H397.05V218.94H398.40V221.83H400.20V224.72H402.00V227.61H403.80V229.54H405.60V231.47H408.30V232.91H414.60V234.36H419.10V235.81H424.50V237.73H428.10V239.18H431.70V241.11H435.30V243.04H438.00V244.96H468.60V250.27H496.50V250.27" fill="none" stroke="#1fb5c4" stroke-width="1.05"/>
<line x1="406.95" y1="230.47" x2="406.95" y2="232.47" stroke="#1fb5c4" stroke-width="0.45" />
<line x1="410.55" y1="231.91" x2="410.55" y2="233.91" stroke="#1fb5c4" stroke-width="0.45" />
<line x1="413.25" y1="231.91" x2="413.25" y2="233.91" stroke="#1fb5c4" stroke-width="0.45" />
<line x1="416.40" y1="233.36" x2="416.40" y2="235.36" stroke="#1fb5c4" stroke-width="0.45" />
<line x1="418.20" y1="233.36" x2="418.20" y2="235.36" stroke="#1fb5c4" stroke-width="0.45" />
<line x1="421.80" y1="234.81" x2="421.80" y2="236.81" stroke="#1fb5c4" stroke-width="0.45" />
<line x1="423.15" y1="234.81" x2="423.15" y2="236.81" stroke="#1fb5c4" stroke-width="0.45" />
<line x1="426.75" y1="236.73" x2="426.75" y2="238.73" stroke="#1fb5c4" stroke-width="0.45" />
<line x1="429.90" y1="238.18" x2="429.90" y2="240.18" stroke="#1fb5c4" stroke-width="0.45" />
<line x1="433.50" y1="240.11" x2="433.50" y2="242.11" stroke="#1fb5c4" stroke-width="0.45" />
<line x1="440.25" y1="243.96" x2="440.25" y2="245.96" stroke="#1fb5c4" stroke-width="0.45" />
<line x1="442.05" y1="243.96" x2="442.05" y2="245.96" stroke="#1fb5c4" stroke-width="0.45" />
<line x1="444.30" y1="243.96" x2="444.30" y2="245.96" stroke="#1fb5c4" stroke-width="0.45" />
<line x1="445.65" y1="243.96" x2="445.65" y2="245.96" stroke="#1fb5c4" stroke-width="0.45" />
<line x1="447.90" y1="243.96" x2="447.90" y2="245.96" stroke="#1fb5c4" stroke-width="0.45" />
<line x1="449.70" y1="243.96" x2="449.70" y2="245.96" stroke="#1fb5c4" stroke-width="0.45" />
<line x1="451.50" y1="243.96" x2="451.50" y2="245.96" stroke="#1fb5c4" stroke-width="0.45" />
<line x1="453.75" y1="243.96" x2="453.75" y2="245.96" stroke="#1fb5c4" stroke-width="0.45" />
<line x1="455.55" y1="243.96" x2="455.55" y2="245.96" stroke="#1fb5c4" stroke-width="0.45" />
<line x1="457.80" y1="243.96" x2="457.80" y2="245.96" stroke="#1fb5c4" stroke-width="0.45" />
<line x1="459.60" y1="243.96" x2="459.60" y2="245.96" stroke="#1fb5c4" stroke-width="0.45" />
<line x1="461.85" y1="243.96" x2="461.85" y2="245.96" stroke="#1fb5c4" stroke-width="0.45" />
<line x1="463.65" y1="243.96" x2="463.65" y2="245.96" stroke="#1fb5c4" stroke-width="0.45" />
<line x1="465.90" y1="243.96" x2="465.90" y2="245.96" stroke="#1fb5c4" stroke-width="0.45" />
<line x1="470.40" y1="249.27" x2="470.40" y2="251.27" stroke="#1fb5c4" stroke-width="0.45" />
<line x1="472.20" y1="249.27" x2="472.20" y2="251.27" stroke="#1fb5c4" stroke-width="0.45" />
<line x1="474.45" y1="249.27" x2="474.45" y2="251.27" stroke="#1fb5c4" stroke-width="0.45" />
<line x1="476.25" y1="249.27" x2="476.25" y2="251.27" stroke="#1fb5c4" stroke-width="0.45" />
<line x1="478.50" y1="249.27" x2="478.50" y2="251.27" stroke="#1fb5c4" stroke-width="0.45" />
<line x1="480.30" y1="249.27" x2="480.30" y2="251.27" stroke="#1fb5c4" stroke-width="0.45" />
<line x1="482.55" y1="249.27" x2="482.55" y2="251.27" stroke="#1fb5c4" stroke-width="0.45" />
<line x1="484.80" y1="249.27" x2="484.80" y2="251.27" stroke="#1fb5c4" stroke-width="0.45" />
<line x1="487.05" y1="249.27" x2="487.05" y2="251.27" stroke="#1fb5c4" stroke-width="0.45" />
<line x1="489.75" y1="249.27" x2="489.75" y2="251.27" stroke="#1fb5c4" stroke-width="0.45" />
<line x1="492.45" y1="249.27" x2="492.45" y2="251.27" stroke="#1fb5c4" stroke-width="0.45" />
<line x1="494.70" y1="249.27" x2="494.70" y2="251.27" stroke="#1fb5c4" stroke-width="0.45" />
<line x1="496.50" y1="249.27" x2="496.50" y2="251.27" stroke="#1fb5c4" stroke-width="0.45" />
<path d="M386.70 195.80H387.38V215.08H392.10V234.36H397.95V263.28H413.47V292.20" fill="none" stroke="#f8766d" stroke-width="1.05"/>
<line x1="401.60" y1="197.60" x2="407.50" y2="197.60" stroke="#f8766d" stroke-width="1.0" />
<line x1="404.50" y1="196.20" x2="404.50" y2="199.00" stroke="#f8766d" stroke-width="0.7" />
<line x1="454.20" y1="197.60" x2="460.00" y2="197.60" stroke="#1fb5c4" stroke-width="1.0" />
<line x1="457.10" y1="196.20" x2="457.10" y2="199.00" stroke="#1fb5c4" stroke-width="0.7" />
<text x="409.90" y="200.00" font-size="7.0" fill="#111" textLength="36.70" lengthAdjust="spacingAndGlyphs" stroke="#000" stroke-width="0.22">FOXA1 Mut</text>
<text x="462.90" y="200.00" font-size="7.0" fill="#111" textLength="34.60" lengthAdjust="spacingAndGlyphs" stroke="#000" stroke-width="0.22">FOXA1 WT</text>
<text x="419.60" y="271.60" font-size="7.0" fill="#111" textLength="96.90" lengthAdjust="spacingAndGlyphs" stroke="#111" stroke-width="0.09">HR = 3.56 (95%CI 1.26 - 10.15)</text>
<text x="380.80" y="319.20" font-size="5.0" fill="#111" textLength="35.40" lengthAdjust="spacingAndGlyphs" >Number at risk</text>
<text x="349.30" y="333.20" font-size="6.5" text-anchor="middle" fill="#111" transform="rotate(-90 349.30 333.20)" >Strata</text>
<text x="378.80" y="330.20" font-size="4.85" text-anchor="end" fill="#111" >FOXA1=Mut</text>
<text x="378.80" y="339.20" font-size="4.85" text-anchor="end" fill="#111" >FOXA1=WT</text>
<line x1="381.50" y1="322.60" x2="381.50" y2="342.60" stroke="#111" stroke-width="0.7" />
<line x1="381.20" y1="342.30" x2="505.30" y2="342.30" stroke="#111" stroke-width="0.8" />
<line x1="380.30" y1="328.50" x2="381.50" y2="328.50" stroke="#222" stroke-width="0.4" />
<line x1="380.30" y1="337.50" x2="381.50" y2="337.50" stroke="#222" stroke-width="0.4" />
<text x="386.70" y="329.90" font-size="3.9" text-anchor="middle" font-weight="bold" fill="#222" >5</text>
<text x="386.70" y="338.90" font-size="3.9" text-anchor="middle" font-weight="bold" fill="#222" >88</text>
<line x1="386.70" y1="342.30" x2="386.70" y2="343.40" stroke="#222" stroke-width="0.4" />
<text x="386.70" y="348.50" font-size="4.7" text-anchor="middle" font-weight="bold" fill="#222" >0</text>
<text x="409.20" y="329.90" font-size="3.9" text-anchor="middle" font-weight="bold" fill="#222" >1</text>
<text x="409.20" y="338.90" font-size="3.9" text-anchor="middle" font-weight="bold" fill="#222" >39</text>
<line x1="409.20" y1="342.30" x2="409.20" y2="343.40" stroke="#222" stroke-width="0.4" />
<text x="409.20" y="348.50" font-size="4.7" text-anchor="middle" font-weight="bold" fill="#222" >5</text>
<text x="431.70" y="329.90" font-size="3.9" text-anchor="middle" font-weight="bold" fill="#222" >0</text>
<text x="431.70" y="338.90" font-size="3.9" text-anchor="middle" font-weight="bold" fill="#222" >21</text>
<line x1="431.70" y1="342.30" x2="431.70" y2="343.40" stroke="#222" stroke-width="0.4" />
<text x="431.70" y="348.50" font-size="4.7" text-anchor="middle" font-weight="bold" fill="#222" >10</text>
<text x="454.20" y="329.90" font-size="3.9" text-anchor="middle" font-weight="bold" fill="#222" >0</text>
<text x="454.20" y="338.90" font-size="3.9" text-anchor="middle" font-weight="bold" fill="#222" >18</text>
<line x1="454.20" y1="342.30" x2="454.20" y2="343.40" stroke="#222" stroke-width="0.4" />
<text x="454.20" y="348.50" font-size="4.7" text-anchor="middle" font-weight="bold" fill="#222" >15</text>
<text x="476.70" y="329.90" font-size="3.9" text-anchor="middle" font-weight="bold" fill="#222" >0</text>
<text x="476.70" y="338.90" font-size="3.9" text-anchor="middle" font-weight="bold" fill="#222" >3</text>
<line x1="476.70" y1="342.30" x2="476.70" y2="343.40" stroke="#222" stroke-width="0.4" />
<text x="476.70" y="348.50" font-size="4.7" text-anchor="middle" font-weight="bold" fill="#222" >20</text>
<text x="499.20" y="329.90" font-size="3.9" text-anchor="middle" font-weight="bold" fill="#222" >0</text>
<text x="499.20" y="338.90" font-size="3.9" text-anchor="middle" font-weight="bold" fill="#222" >0</text>
<line x1="499.20" y1="342.30" x2="499.20" y2="343.40" stroke="#222" stroke-width="0.4" />
<text x="499.20" y="348.50" font-size="4.7" text-anchor="middle" font-weight="bold" fill="#222" >25</text>
<text x="443.80" y="358.80" font-size="7.6" text-anchor="middle" fill="#111" >Time (years)</text>
</g>
</svg>
</body></html>
